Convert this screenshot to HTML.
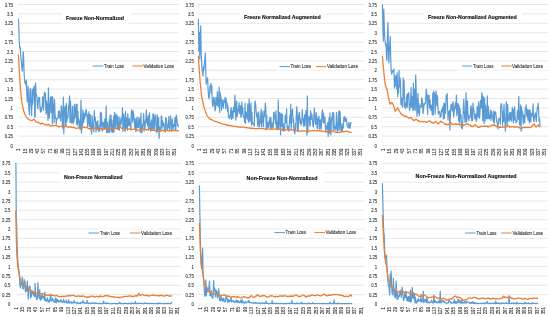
<!DOCTYPE html>
<html lang="en"><head><meta charset="utf-8"><title>Train and Validation Loss</title>
<style>html,body{margin:0;padding:0;background:#fff;overflow:hidden}svg{display:block}</style>
</head><body>
<svg width="550" height="317" viewBox="0 0 550 317">
<rect width="550" height="317" fill="#fff"/>
<g>
<clipPath id="c0"><rect x="17" y="4.2" width="162.6" height="142.3"/></clipPath>
<path d="M18 136.1H178.6M18 126.7H178.6M18 117.3H178.6M18 107.9H178.6M18 98.5H178.6M18 89.1H178.6M18 79.7H178.6M18 70.3H178.6M18 60.9H178.6M18 51.5H178.6M18 42.1H178.6M18 32.7H178.6M18 23.3H178.6M18 13.9H178.6M18 4.5H178.6" stroke="#dfdfdf" stroke-width="0.75" fill="none"/>
<path d="M18 145.6H178.6" stroke="#e9e9e9" stroke-width="0.6" fill="none"/>
<rect x="62" y="11.2" width="68.5" height="7.8" fill="#fff" fill-opacity="1"/>
<rect x="62" y="19" width="67" height="5.6" fill="#fff" fill-opacity="0.7"/>
<rect x="90" y="69" width="87.5" height="2.5" fill="#fff" fill-opacity="0.45"/>
<g font-family='"Liberation Sans", Arial, sans-serif' font-size="4.9" fill="#3a3a3a" stroke="#3a3a3a" stroke-width="0.12">
<text x="10.6" y="147.54" textLength="2.4" lengthAdjust="spacingAndGlyphs">0</text>
<text x="4.7" y="138.14" textLength="8.3" lengthAdjust="spacingAndGlyphs">0.25</text>
<text x="7.1" y="128.74" textLength="5.9" lengthAdjust="spacingAndGlyphs">0.5</text>
<text x="4.7" y="119.34" textLength="8.3" lengthAdjust="spacingAndGlyphs">0.75</text>
<text x="10.6" y="109.94" textLength="2.4" lengthAdjust="spacingAndGlyphs">1</text>
<text x="4.7" y="100.54" textLength="8.3" lengthAdjust="spacingAndGlyphs">1.25</text>
<text x="7.1" y="91.14" textLength="5.9" lengthAdjust="spacingAndGlyphs">1.5</text>
<text x="4.7" y="81.74" textLength="8.3" lengthAdjust="spacingAndGlyphs">1.75</text>
<text x="10.6" y="72.34" textLength="2.4" lengthAdjust="spacingAndGlyphs">2</text>
<text x="4.7" y="62.94" textLength="8.3" lengthAdjust="spacingAndGlyphs">2.25</text>
<text x="7.1" y="53.54" textLength="5.9" lengthAdjust="spacingAndGlyphs">2.5</text>
<text x="4.7" y="44.14" textLength="8.3" lengthAdjust="spacingAndGlyphs">2.75</text>
<text x="10.6" y="34.74" textLength="2.4" lengthAdjust="spacingAndGlyphs">3</text>
<text x="4.7" y="25.34" textLength="8.3" lengthAdjust="spacingAndGlyphs">3.25</text>
<text x="7.1" y="15.94" textLength="5.9" lengthAdjust="spacingAndGlyphs">3.5</text>
<text x="4.7" y="6.54" textLength="8.3" lengthAdjust="spacingAndGlyphs">3.75</text>
</g>
<g font-family='"Liberation Sans", Arial, sans-serif' font-size="4.9" fill="#3a3a3a" stroke="#3a3a3a" stroke-width="0.12">
<text transform="translate(20.44 151) rotate(-90)" textLength="2.4" lengthAdjust="spacingAndGlyphs">1</text>
<text transform="translate(26.67 153.4) rotate(-90)" textLength="4.8" lengthAdjust="spacingAndGlyphs">15</text>
<text transform="translate(32.9 153.4) rotate(-90)" textLength="4.8" lengthAdjust="spacingAndGlyphs">29</text>
<text transform="translate(39.13 153.4) rotate(-90)" textLength="4.8" lengthAdjust="spacingAndGlyphs">43</text>
<text transform="translate(45.37 153.4) rotate(-90)" textLength="4.8" lengthAdjust="spacingAndGlyphs">57</text>
<text transform="translate(51.6 153.4) rotate(-90)" textLength="4.8" lengthAdjust="spacingAndGlyphs">71</text>
<text transform="translate(57.83 153.4) rotate(-90)" textLength="4.8" lengthAdjust="spacingAndGlyphs">85</text>
<text transform="translate(64.06 153.4) rotate(-90)" textLength="4.8" lengthAdjust="spacingAndGlyphs">99</text>
<text transform="translate(70.29 155.8) rotate(-90)" textLength="7.2" lengthAdjust="spacingAndGlyphs">113</text>
<text transform="translate(76.52 155.8) rotate(-90)" textLength="7.2" lengthAdjust="spacingAndGlyphs">127</text>
<text transform="translate(82.75 155.8) rotate(-90)" textLength="7.2" lengthAdjust="spacingAndGlyphs">141</text>
<text transform="translate(88.98 155.8) rotate(-90)" textLength="7.2" lengthAdjust="spacingAndGlyphs">155</text>
<text transform="translate(95.22 155.8) rotate(-90)" textLength="7.2" lengthAdjust="spacingAndGlyphs">169</text>
<text transform="translate(101.45 155.8) rotate(-90)" textLength="7.2" lengthAdjust="spacingAndGlyphs">183</text>
<text transform="translate(107.68 155.8) rotate(-90)" textLength="7.2" lengthAdjust="spacingAndGlyphs">197</text>
<text transform="translate(113.91 155.8) rotate(-90)" textLength="7.2" lengthAdjust="spacingAndGlyphs">211</text>
<text transform="translate(120.14 155.8) rotate(-90)" textLength="7.2" lengthAdjust="spacingAndGlyphs">225</text>
<text transform="translate(126.37 155.8) rotate(-90)" textLength="7.2" lengthAdjust="spacingAndGlyphs">239</text>
<text transform="translate(132.6 155.8) rotate(-90)" textLength="7.2" lengthAdjust="spacingAndGlyphs">253</text>
<text transform="translate(138.84 155.8) rotate(-90)" textLength="7.2" lengthAdjust="spacingAndGlyphs">267</text>
<text transform="translate(145.07 155.8) rotate(-90)" textLength="7.2" lengthAdjust="spacingAndGlyphs">281</text>
<text transform="translate(151.3 155.8) rotate(-90)" textLength="7.2" lengthAdjust="spacingAndGlyphs">295</text>
<text transform="translate(157.53 155.8) rotate(-90)" textLength="7.2" lengthAdjust="spacingAndGlyphs">309</text>
<text transform="translate(163.76 155.8) rotate(-90)" textLength="7.2" lengthAdjust="spacingAndGlyphs">323</text>
<text transform="translate(169.99 155.8) rotate(-90)" textLength="7.2" lengthAdjust="spacingAndGlyphs">337</text>
<text transform="translate(176.22 155.8) rotate(-90)" textLength="7.2" lengthAdjust="spacingAndGlyphs">351</text>
</g>
<g clip-path="url(#c0)" fill="none" stroke-linejoin="round" stroke-linecap="round">
<polyline points="18.4,19.16 18.84,27.06 19.28,42.1 19.72,48.49 20.16,46.99 20.6,53.38 21.05,59.02 21.49,63.16 21.93,68.42 22.37,71.05 22.81,62.78 23.25,51.5 23.69,59.02 24.13,74.06 24.57,79.7 25.02,83.08 25.46,81.58 25.9,85.34 26.34,80.08 26.78,92.86 27.22,101.88 27.66,92.86 28.1,86.09 28.54,100.38 28.98,110.16 29.42,114.78 29.87,91.74 30.31,88.4 30.75,100.86 31.19,106.52 31.63,115.55 32.07,89.25 32.51,104.54 32.95,100.13 33.39,88.18 33.84,95.35 34.28,85.71 34.72,116.88 35.16,116.81 35.6,83.08 36.04,96.06 36.48,94.66 36.92,97.56 37.36,105.45 37.8,108.77 38.24,102.18 38.69,97.3 39.13,99.22 39.57,97.9 40.01,109.07 40.45,112.06 40.89,107.66 41.33,111.75 41.77,107.34 42.21,106.52 42.66,96.81 43.1,98.31 43.54,110.28 43.98,98.64 44.42,92.11 44.86,94.38 45.3,93.38 45.74,107.84 46.18,114.19 46.62,100.87 47.06,112.29 47.51,104.38 47.95,120.29 48.39,87.97 48.83,103.1 49.27,118.15 49.71,107.41 50.15,103.62 50.59,97.01 51.03,112.72 51.48,99.87 51.92,96.68 52.36,124.07 52.8,97 53.24,111.31 53.68,104.35 54.12,122.68 54.56,99.65 55,113.82 55.44,118.14 55.88,118.26 56.33,123.94 56.77,118.53 57.21,119.07 57.65,118.12 58.09,118.04 58.53,111.18 58.97,117.17 59.41,110.9 59.85,117.89 60.3,117.83 60.74,120.74 61.18,106.42 61.62,106 62.06,113.48 62.5,128.23 62.94,127.13 63.38,97 63.82,133.84 64.26,108.05 64.7,110.76 65.15,105.86 65.59,125.61 66.03,125.94 66.47,103.43 66.91,121.4 67.35,115.53 67.79,118.23 68.23,113.54 68.67,105.45 69.12,105.02 69.56,95.87 70,122.48 70.44,100.88 70.88,107.84 71.32,123.1 71.76,122.55 72.2,119.93 72.64,106.23 73.08,123.78 73.53,120.11 73.97,121.94 74.41,104.2 74.85,118.3 75.29,114.74 75.73,107.54 76.17,104.37 76.61,124.09 77.05,104.07 77.49,125.23 77.94,111.32 78.38,122.39 78.82,119.2 79.26,127.64 79.7,121 80.14,129.48 80.58,117.29 81.02,100 81.46,132.9 81.9,127.48 82.34,127.1 82.79,110.15 83.23,113.29 83.67,123.02 84.11,113.14 84.55,119.02 84.99,114.66 85.43,115.84 85.87,110.14 86.31,109.6 86.75,114.86 87.2,116.71 87.64,127.23 88.08,114.35 88.52,123.71 88.96,111.6 89.4,126.42 89.84,124.73 90.28,114.43 90.72,128.9 91.16,129.78 91.61,133.84 92.05,115.56 92.49,119.46 92.93,128.81 93.37,128.65 93.81,131.65 94.25,110.57 94.69,120.07 95.13,116.76 95.57,121.42 96.02,132.32 96.46,122.47 96.9,128.99 97.34,122.39 97.78,120.94 98.22,129.38 98.66,131.64 99.1,131.2 99.54,125.41 99.98,130.23 100.43,112.2 100.87,125.93 101.31,112.95 101.75,121.41 102.19,131.4 102.63,122.08 103.07,123.83 103.51,122.71 103.95,129.39 104.4,124.99 104.84,118.95 105.28,128.75 105.72,122.4 106.16,106.02 106.6,132.68 107.04,121.78 107.48,123.03 107.92,132.27 108.36,132.71 108.81,131.48 109.25,119.16 109.69,132.3 110.13,115.31 110.57,126.16 111.01,115.13 111.45,131.62 111.89,120.01 112.33,131.72 112.77,132.35 113.22,128.69 113.66,116.12 114.1,132.09 114.54,112.31 114.98,114.53 115.42,126.36 115.86,128.65 116.3,114.42 116.74,124.27 117.18,115.5 117.62,129.24 118.07,116.9 118.51,129.36 118.95,122.47 119.39,130.26 119.83,117.08 120.27,121.34 120.71,125.05 121.15,123.45 121.59,119.29 122.03,117.17 122.48,107.9 122.92,131.16 123.36,126.26 123.8,113.93 124.24,119.09 124.68,130.4 125.12,131.43 125.56,111.36 126,127.78 126.44,118.02 126.89,124.04 127.33,130.34 127.77,113.87 128.21,122.73 128.65,125.58 129.09,120.77 129.53,118.48 129.97,125.75 130.41,123.97 130.85,129.97 131.3,113.02 131.74,109.78 132.18,111.58 132.62,122.16 133.06,111.16 133.5,113.14 133.94,118.47 134.38,120.58 134.82,128.15 135.26,118.89 135.71,131.15 136.15,131.5 136.59,119.94 137.03,117.19 137.47,127.8 137.91,123.61 138.35,127.35 138.79,117.63 139.23,117.93 139.68,123.49 140.12,132.21 140.56,123.66 141,113.21 141.44,132.91 141.88,132.44 142.32,127.66 142.76,124.29 143.2,125.09 143.64,113.49 144.09,131.23 144.53,121.97 144.97,128.3 145.41,119.6 145.85,122.67 146.29,109.78 146.73,122.62 147.17,118.55 147.61,125.41 148.05,115.79 148.5,130.11 148.94,125.49 149.38,112.83 149.82,121.89 150.26,128.46 150.7,131.25 151.14,123.51 151.58,119.87 152.02,129.58 152.46,126.82 152.91,114.18 153.35,128.56 153.79,113.93 154.23,130.08 154.67,119.46 155.11,118 155.55,115.06 155.99,124.99 156.43,132.54 156.87,130.43 157.31,114.97 157.76,131.17 158.2,129.93 158.64,117.5 159.08,138.36 159.52,127.09 159.96,131.31 160.4,127.69 160.84,130.32 161.28,115.77 161.72,116.4 162.17,128.25 162.61,120.35 163.05,125.58 163.49,124.3 163.93,123.19 164.37,129.55 164.81,129.72 165.25,131.98 165.69,117.9 166.14,117.95 166.58,120.78 167.02,130.84 167.46,130.52 167.9,124.6 168.34,127.11 168.78,116.46 169.22,127.39 169.66,130.67 170.1,127.26 170.55,115.94 170.99,123.95 171.43,123.17 171.87,131.21 172.31,118.94 172.75,125.49 173.19,129.02 173.63,124.64 174.07,126.62 174.51,125.97 174.96,117.46 175.4,128.76 175.84,129.91 176.28,115.04 176.72,117.92 177.16,120.57 177.6,125.37 178.04,124.82 178.48,126.7" stroke="#5b9bd5" stroke-width="1.2"/>
<polyline points="18.4,54.51 18.84,62.4 19.28,70.3 19.72,77.82 20.16,85.34 20.6,90.23 21.05,95.12 21.49,98.69 21.93,102.26 22.37,104.61 22.81,106.96 23.25,108.94 23.69,110.86 24.13,112.27 24.57,113.36 25.02,114.69 25.46,115.3 25.9,116.34 26.34,116.95 26.78,117.44 27.22,118.11 27.66,118.65 28.1,118.72 28.54,119.23 28.98,119.47 29.42,119.75 29.87,120.14 30.31,120.1 30.75,120.26 31.19,120.23 31.63,120.52 32.07,120.62 32.51,120.31 32.95,119.86 33.39,119.58 33.84,119.28 34.28,119.52 34.72,120.08 35.16,120.72 35.6,121.34 36.04,121.71 36.48,121.93 36.92,122.1 37.36,122.38 37.8,122.26 38.24,122.61 38.69,122.57 39.13,123.02 39.57,123.1 40.01,123.42 40.45,123.96 40.89,124.03 41.33,123.54 41.77,123.47 42.21,122.88 42.66,123.42 43.1,123.91 43.54,124.01 43.98,124.12 44.42,124.52 44.86,124.81 45.3,124.74 45.74,124.49 46.18,124.62 46.62,124.99 47.06,125.02 47.51,125.17 47.95,124.99 48.39,124.47 48.83,124.55 49.27,124.86 49.71,125.34 50.15,125.88 50.59,125.68 51.03,126.01 51.48,125.83 51.92,125.93 52.36,125.66 52.8,125.63 53.24,125.67 53.68,125.43 54.12,125.58 54.56,125.65 55,125.24 55.44,125.4 55.88,125.42 56.33,125.33 56.77,125.54 57.21,126.08 57.65,125.97 58.09,126.62 58.53,126.73 58.97,126.62 59.41,126.95 59.85,126.71 60.3,126.54 60.74,126.27 61.18,126.03 61.62,126.16 62.06,125.95 62.5,126.56 62.94,127.03 63.38,127.31 63.82,127.19 64.26,126.83 64.7,126.37 65.15,126.64 65.59,126.61 66.03,126.23 66.47,126.41 66.91,126.8 67.35,126.96 67.79,126.96 68.23,127.11 68.67,127.69 69.12,127.09 69.56,126.85 70,126.72 70.44,126.86 70.88,127.06 71.32,127.15 71.76,127.03 72.2,127.65 72.64,127.74 73.08,127.74 73.53,127.29 73.97,127.2 74.41,127.57 74.85,127.86 75.29,127.86 75.73,128.27 76.17,128.31 76.61,128.28 77.05,128.02 77.49,128.01 77.94,128.04 78.38,127.78 78.82,128.13 79.26,128.24 79.7,128.12 80.14,128.04 80.58,128.21 81.02,128.06 81.46,127.87 81.9,127.68 82.34,127.81 82.79,127.64 83.23,127.33 83.67,127.26 84.11,127.37 84.55,127.32 84.99,127.38 85.43,127.6 85.87,127.67 86.31,127.7 86.75,127.44 87.2,127.67 87.64,127.81 88.08,128.48 88.52,128.46 88.96,128.69 89.4,128.73 89.84,129.08 90.28,128.75 90.72,129.15 91.16,128.92 91.61,128.53 92.05,128.15 92.49,127.91 92.93,128.02 93.37,128.07 93.81,128.11 94.25,128.35 94.69,128.19 95.13,128.08 95.57,128.44 96.02,128.99 96.46,129.17 96.9,129.14 97.34,129.27 97.78,129.25 98.22,129.05 98.66,128.65 99.1,128.27 99.54,128.67 99.98,128.58 100.43,128.58 100.87,128.59 101.31,128.61 101.75,128.71 102.19,128.86 102.63,129.23 103.07,129.59 103.51,129.26 103.95,129.45 104.4,128.99 104.84,129.06 105.28,128.52 105.72,128.29 106.16,128.51 106.6,128.4 107.04,128.6 107.48,128.35 107.92,128.01 108.36,128.11 108.81,128.59 109.25,128.83 109.69,129.04 110.13,129.09 110.57,128.95 111.01,128.46 111.45,128.4 111.89,128.33 112.33,127.95 112.77,128.38 113.22,128.41 113.66,128.8 114.1,128.52 114.54,128.18 114.98,127.96 115.42,128.09 115.86,128.43 116.3,128.45 116.74,128.79 117.18,129.1 117.62,128.94 118.07,128.58 118.51,128.37 118.95,128.23 119.39,127.46 119.83,127.11 120.27,126.5 120.71,126.99 121.15,127.69 121.59,128.34 122.03,128.4 122.48,128.46 122.92,128.67 123.36,128.86 123.8,128.75 124.24,128.64 124.68,128.72 125.12,128.73 125.56,128.59 126,128.16 126.44,128.5 126.89,128.16 127.33,128.44 127.77,128.77 128.21,128.77 128.65,129.14 129.09,129.11 129.53,128.98 129.97,129.05 130.41,128.57 130.85,128.72 131.3,129.05 131.74,129.37 132.18,129.39 132.62,129.45 133.06,129.35 133.5,129.32 133.94,129.16 134.38,129 134.82,129.03 135.26,129.26 135.71,129.15 136.15,129.3 136.59,129.7 137.03,129.82 137.47,130.04 137.91,130.27 138.35,130.22 138.79,130.17 139.23,130.03 139.68,130.12 140.12,130.09 140.56,129.76 141,129.66 141.44,129.21 141.88,129.2 142.32,129.59 142.76,129.22 143.2,129.18 143.64,129.3 144.09,129.02 144.53,129.04 144.97,129.02 145.41,129.36 145.85,129.53 146.29,129.65 146.73,129.94 147.17,129.62 147.61,129.58 148.05,129.24 148.5,129.36 148.94,129.04 149.38,128.92 149.82,129.34 150.26,129.65 150.7,130.23 151.14,130.11 151.58,130.27 152.02,130.47 152.46,130.51 152.91,130.24 153.35,130.3 153.79,130.11 154.23,130.2 154.67,130.51 155.11,130.71 155.55,130.63 155.99,130.66 156.43,130.65 156.87,130.87 157.31,131.17 157.76,130.8 158.2,131.13 158.64,130.78 159.08,130.72 159.52,130.3 159.96,129.75 160.4,130.48 160.84,130.89 161.28,131.13 161.72,130.75 162.17,130.42 162.61,130.2 163.05,130.29 163.49,130.7 163.93,130.7 164.37,131.09 164.81,131.04 165.25,130.91 165.69,130.7 166.14,130.19 166.58,129.91 167.02,130.24 167.46,130.37 167.9,130.78 168.34,130.96 168.78,131 169.22,130.86 169.66,130.71 170.1,130.9 170.55,130.49 170.99,130.33 171.43,130.42 171.87,130.3 172.31,130.56 172.75,130.51 173.19,130.62 173.63,130.42 174.07,130.53 174.51,129.95 174.96,130.4 175.4,130.7 175.84,130.76 176.28,130.82 176.72,130.81 177.16,130.67 177.6,130.87 178.04,130.57 178.48,130.55" stroke="#ed7d31" stroke-width="1.25"/>
</g>
<text x="66" y="20.1" font-family='"Liberation Sans", Arial, sans-serif' font-size="6" font-weight="bold" fill="#111" stroke="#111" stroke-width="0.15" textLength="58" lengthAdjust="spacingAndGlyphs">Freeze Non-Normalized</text>
<path d="M92.6 66H103.4" stroke="#5b9bd5" stroke-width="1"/>
<path d="M132.4 66H143.4" stroke="#ed7d31" stroke-width="1"/>
<text x="104" y="67.7" font-family='"Liberation Sans", Arial, sans-serif' font-size="4.9" fill="#3a3a3a" stroke="#3a3a3a" stroke-width="0.12" textLength="20" lengthAdjust="spacingAndGlyphs">Train Loss</text>
<text x="143.6" y="67.7" font-family='"Liberation Sans", Arial, sans-serif' font-size="4.9" fill="#3a3a3a" stroke="#3a3a3a" stroke-width="0.12" textLength="30.4" lengthAdjust="spacingAndGlyphs">Validation Loss</text>
</g>
<g>
<clipPath id="c1"><rect x="196.6" y="4.2" width="169.2" height="142.3"/></clipPath>
<path d="M197.6 136.1H364.8M197.6 126.7H364.8M197.6 117.3H364.8M197.6 107.9H364.8M197.6 98.5H364.8M197.6 89.1H364.8M197.6 79.7H364.8M197.6 70.3H364.8M197.6 60.9H364.8M197.6 51.5H364.8M197.6 42.1H364.8M197.6 32.7H364.8M197.6 23.3H364.8M197.6 13.9H364.8M197.6 4.5H364.8" stroke="#dfdfdf" stroke-width="0.75" fill="none"/>
<path d="M197.6 145.6H364.8" stroke="#e9e9e9" stroke-width="0.6" fill="none"/>
<rect x="240" y="11.5" width="86" height="10.8" fill="#fff" fill-opacity="0.55"/>
<rect x="277" y="69" width="85" height="2.5" fill="#fff" fill-opacity="0.45"/>
<g font-family='"Liberation Sans", Arial, sans-serif' font-size="4.9" fill="#3a3a3a" stroke="#3a3a3a" stroke-width="0.12">
<text x="191.4" y="147.54" textLength="2.4" lengthAdjust="spacingAndGlyphs">0</text>
<text x="185.5" y="138.14" textLength="8.3" lengthAdjust="spacingAndGlyphs">0.25</text>
<text x="187.9" y="128.74" textLength="5.9" lengthAdjust="spacingAndGlyphs">0.5</text>
<text x="185.5" y="119.34" textLength="8.3" lengthAdjust="spacingAndGlyphs">0.75</text>
<text x="191.4" y="109.94" textLength="2.4" lengthAdjust="spacingAndGlyphs">1</text>
<text x="185.5" y="100.54" textLength="8.3" lengthAdjust="spacingAndGlyphs">1.25</text>
<text x="187.9" y="91.14" textLength="5.9" lengthAdjust="spacingAndGlyphs">1.5</text>
<text x="185.5" y="81.74" textLength="8.3" lengthAdjust="spacingAndGlyphs">1.75</text>
<text x="191.4" y="72.34" textLength="2.4" lengthAdjust="spacingAndGlyphs">2</text>
<text x="185.5" y="62.94" textLength="8.3" lengthAdjust="spacingAndGlyphs">2.25</text>
<text x="187.9" y="53.54" textLength="5.9" lengthAdjust="spacingAndGlyphs">2.5</text>
<text x="185.5" y="44.14" textLength="8.3" lengthAdjust="spacingAndGlyphs">2.75</text>
<text x="191.4" y="34.74" textLength="2.4" lengthAdjust="spacingAndGlyphs">3</text>
<text x="185.5" y="25.34" textLength="8.3" lengthAdjust="spacingAndGlyphs">3.25</text>
<text x="187.9" y="15.94" textLength="5.9" lengthAdjust="spacingAndGlyphs">3.5</text>
<text x="185.5" y="6.54" textLength="8.3" lengthAdjust="spacingAndGlyphs">3.75</text>
</g>
<g font-family='"Liberation Sans", Arial, sans-serif' font-size="4.9" fill="#3a3a3a" stroke="#3a3a3a" stroke-width="0.12">
<text transform="translate(200.64 151) rotate(-90)" textLength="2.4" lengthAdjust="spacingAndGlyphs">1</text>
<text transform="translate(207.1 153.4) rotate(-90)" textLength="4.8" lengthAdjust="spacingAndGlyphs">15</text>
<text transform="translate(213.57 153.4) rotate(-90)" textLength="4.8" lengthAdjust="spacingAndGlyphs">29</text>
<text transform="translate(220.03 153.4) rotate(-90)" textLength="4.8" lengthAdjust="spacingAndGlyphs">43</text>
<text transform="translate(226.49 153.4) rotate(-90)" textLength="4.8" lengthAdjust="spacingAndGlyphs">57</text>
<text transform="translate(232.96 153.4) rotate(-90)" textLength="4.8" lengthAdjust="spacingAndGlyphs">71</text>
<text transform="translate(239.42 153.4) rotate(-90)" textLength="4.8" lengthAdjust="spacingAndGlyphs">85</text>
<text transform="translate(245.89 153.4) rotate(-90)" textLength="4.8" lengthAdjust="spacingAndGlyphs">99</text>
<text transform="translate(252.35 155.8) rotate(-90)" textLength="7.2" lengthAdjust="spacingAndGlyphs">113</text>
<text transform="translate(258.81 155.8) rotate(-90)" textLength="7.2" lengthAdjust="spacingAndGlyphs">127</text>
<text transform="translate(265.28 155.8) rotate(-90)" textLength="7.2" lengthAdjust="spacingAndGlyphs">141</text>
<text transform="translate(271.74 155.8) rotate(-90)" textLength="7.2" lengthAdjust="spacingAndGlyphs">155</text>
<text transform="translate(278.21 155.8) rotate(-90)" textLength="7.2" lengthAdjust="spacingAndGlyphs">169</text>
<text transform="translate(284.67 155.8) rotate(-90)" textLength="7.2" lengthAdjust="spacingAndGlyphs">183</text>
<text transform="translate(291.13 155.8) rotate(-90)" textLength="7.2" lengthAdjust="spacingAndGlyphs">197</text>
<text transform="translate(297.6 155.8) rotate(-90)" textLength="7.2" lengthAdjust="spacingAndGlyphs">211</text>
<text transform="translate(304.06 155.8) rotate(-90)" textLength="7.2" lengthAdjust="spacingAndGlyphs">225</text>
<text transform="translate(310.52 155.8) rotate(-90)" textLength="7.2" lengthAdjust="spacingAndGlyphs">239</text>
<text transform="translate(316.99 155.8) rotate(-90)" textLength="7.2" lengthAdjust="spacingAndGlyphs">253</text>
<text transform="translate(323.45 155.8) rotate(-90)" textLength="7.2" lengthAdjust="spacingAndGlyphs">267</text>
<text transform="translate(329.92 155.8) rotate(-90)" textLength="7.2" lengthAdjust="spacingAndGlyphs">281</text>
<text transform="translate(336.38 155.8) rotate(-90)" textLength="7.2" lengthAdjust="spacingAndGlyphs">295</text>
<text transform="translate(342.84 155.8) rotate(-90)" textLength="7.2" lengthAdjust="spacingAndGlyphs">309</text>
<text transform="translate(349.31 155.8) rotate(-90)" textLength="7.2" lengthAdjust="spacingAndGlyphs">323</text>
<text transform="translate(355.77 155.8) rotate(-90)" textLength="7.2" lengthAdjust="spacingAndGlyphs">337</text>
<text transform="translate(362.23 155.8) rotate(-90)" textLength="7.2" lengthAdjust="spacingAndGlyphs">351</text>
</g>
<g clip-path="url(#c1)" fill="none" stroke-linejoin="round" stroke-linecap="round">
<polyline points="198.4,19.16 198.86,51.5 199.32,32.7 199.79,59.02 200.25,36.46 200.71,25.93 201.17,51.5 201.63,62.78 202.09,70.3 202.56,72.18 203.02,75.94 203.48,66.54 203.94,70.3 204.4,62.78 204.86,59.02 205.33,53 205.79,70.3 206.25,84.21 206.71,81.58 207.17,79.7 207.63,77.82 208.1,89.1 208.56,96.62 209.02,98.88 209.48,94.49 209.94,86.26 210.4,86.55 210.87,83.43 211.33,93.12 211.79,85.34 212.25,101.99 212.71,106.3 213.17,105.69 213.64,97.58 214.1,97.9 214.56,102.66 215.02,110.92 215.48,108.87 215.94,97.33 216.41,103.15 216.87,105.35 217.33,91.7 217.79,101.92 218.25,106.96 218.71,104.9 219.18,87.22 219.64,112.41 220.1,92.47 220.56,95.65 221.02,97.6 221.49,110.28 221.95,99.71 222.41,101.29 222.87,105.46 223.33,108.11 223.79,100.16 224.26,102.32 224.72,100.18 225.18,97.26 225.64,108.76 226.1,98.39 226.56,104.25 227.03,102.85 227.49,111.42 227.95,105.59 228.41,116.82 228.87,115.65 229.33,118.77 229.8,118.52 230.26,116.27 230.72,110.5 231.18,107.6 231.64,119.39 232.1,111.47 232.57,111.05 233.03,118.09 233.49,107.08 233.95,109.73 234.41,112.09 234.87,95.12 235.34,105.36 235.8,120.16 236.26,107.26 236.72,101.04 237.18,116.67 237.64,112.78 238.11,108.81 238.57,111.27 239.03,102.6 239.49,113.08 239.95,113.78 240.41,105.48 240.88,117.11 241.34,116.79 241.8,101.88 242.26,113.39 242.72,107.73 243.18,115.96 243.65,117.1 244.11,115.9 244.57,122.19 245.03,103.23 245.49,123.42 245.96,111.52 246.42,113.94 246.88,116.37 247.34,119 247.8,103.91 248.26,119.65 248.73,122.24 249.19,98.88 249.65,112.45 250.11,121.44 250.57,110.08 251.03,103.13 251.5,125.24 251.96,112.44 252.42,123.77 252.88,122.87 253.34,123.68 253.8,124.93 254.27,126.11 254.73,106.37 255.19,101.13 255.65,104.34 256.11,111.06 256.57,116.35 257.04,113.15 257.5,123.22 257.96,126.04 258.42,111.9 258.88,114.6 259.34,126.95 259.81,124.36 260.27,122.97 260.73,114.69 261.19,109.26 261.65,126.86 262.11,111.62 262.58,122.19 263.04,116.1 263.5,126.81 263.96,110.75 264.42,116.8 264.88,111.89 265.35,103.01 265.81,107.87 266.27,129.85 266.73,115 267.19,128.34 267.65,122.61 268.12,126.72 268.58,127.51 269.04,120.95 269.5,122.57 269.96,117.33 270.43,127.97 270.89,117.52 271.35,127.08 271.81,129.08 272.27,123.04 272.73,125.52 273.2,127.56 273.66,112.7 274.12,112.17 274.58,115.55 275.04,119.91 275.5,123.74 275.97,110.83 276.43,128.91 276.89,122.06 277.35,121.57 277.81,129.79 278.27,100 278.74,129.3 279.2,119.24 279.66,112.35 280.12,121.08 280.58,134.97 281.04,113.4 281.51,115.15 281.97,126.4 282.43,114.3 282.89,130.73 283.35,123.59 283.81,131.05 284.28,128.38 284.74,130.35 285.2,115.07 285.66,116.43 286.12,122.55 286.58,108.79 287.05,126.4 287.51,129.34 287.97,126.23 288.43,130.51 288.89,131.1 289.35,123.43 289.82,115.16 290.28,122.96 290.74,104.14 291.2,129.64 291.66,113.95 292.13,111.32 292.59,109.11 293.05,122.5 293.51,119.38 293.97,130.89 294.43,132.09 294.9,133.84 295.36,123.81 295.82,129.15 296.28,115.94 296.74,106.77 297.2,112.65 297.67,129.85 298.13,131.68 298.59,116.17 299.05,114.01 299.51,112.16 299.97,122.94 300.44,118.96 300.9,125.24 301.36,123.61 301.82,123.11 302.28,109.69 302.74,119.99 303.21,118.65 303.67,126.25 304.13,124.7 304.59,114.85 305.05,125.68 305.51,114.76 305.98,110.46 306.44,114.44 306.9,135.35 307.36,95.87 307.82,132.83 308.28,117.52 308.75,117.45 309.21,116.48 309.67,124.48 310.13,126.04 310.59,110.74 311.05,114.26 311.52,119.44 311.98,114.4 312.44,120.25 312.9,126.07 313.36,127.04 313.82,119.24 314.29,107.9 314.75,116.46 315.21,121.64 315.67,124.35 316.13,112.58 316.6,115.13 317.06,127.99 317.52,128.68 317.98,118.47 318.44,117.78 318.9,116.07 319.37,128.92 319.83,127.94 320.29,119.54 320.75,124.42 321.21,129.31 321.67,118.21 322.14,111.62 322.6,109.78 323.06,122.5 323.52,113.25 323.98,123.05 324.44,121.1 324.91,116.94 325.37,125.98 325.83,132.09 326.29,125.88 326.75,127.9 327.21,128.81 327.68,122.51 328.14,136.48 328.6,126.68 329.06,117.56 329.52,133.14 329.98,112.79 330.45,127.27 330.91,134.97 331.37,121.38 331.83,118.15 332.29,116.22 332.75,112.42 333.22,130.46 333.68,112.88 334.14,125.51 334.6,128.22 335.06,130.4 335.52,126.03 335.99,128.74 336.45,112.43 336.91,128.64 337.37,131.9 337.83,127.82 338.3,116.57 338.76,111.71 339.22,130.4 339.68,110.91 340.14,112.25 340.6,127.66 341.07,130.05 341.53,131.89 341.99,123.62 342.45,130.97 342.91,126.2 343.37,127.82 343.84,117.19 344.3,121.17 344.76,116.57 345.22,117.85 345.68,121.32 346.14,118.49 346.61,120.24 347.07,125.36 347.53,125.99 347.99,127.49 348.45,127.83 348.91,122.42 349.38,123.98 349.84,128.41 350.3,126.18 350.76,122.94 351.22,122.94" stroke="#5b9bd5" stroke-width="1.2"/>
<polyline points="198.4,56.01 198.86,63.16 199.32,70.3 199.79,76.88 200.25,83.46 200.71,87.85 201.17,92.23 201.63,96.62 202.09,98.65 202.56,100.68 203.02,102.71 203.48,104.74 203.94,106.93 204.4,108.15 204.86,109.64 205.33,110.67 205.79,112.44 206.25,113.45 206.71,115.13 207.17,115.83 207.63,116.42 208.1,116.93 208.56,117.29 209.02,118.23 209.48,118.77 209.94,118.8 210.4,119.17 210.87,119.55 211.33,119.33 211.79,119.55 212.25,120.13 212.71,120.19 213.17,120.52 213.64,120.74 214.1,120.9 214.56,121.32 215.02,121.3 215.48,121.7 215.94,121.75 216.41,121.57 216.87,121.86 217.33,122.03 217.79,122.14 218.25,122.37 218.71,122.59 219.18,123 219.64,122.88 220.1,122.97 220.56,123.16 221.02,123.48 221.49,123.79 221.95,123.96 222.41,123.99 222.87,124.01 223.33,124.26 223.79,124.22 224.26,124.16 224.72,124.3 225.18,124.37 225.64,124.71 226.1,125.12 226.56,124.89 227.03,125.19 227.49,125.28 227.95,125.54 228.41,125.44 228.87,125.46 229.33,125.28 229.8,125.59 230.26,125.47 230.72,125.73 231.18,125.59 231.64,125.98 232.1,125.98 232.57,126.06 233.03,126.03 233.49,126.4 233.95,126.31 234.41,126.44 234.87,126.42 235.34,126.35 235.8,126.28 236.26,126.64 236.72,126.58 237.18,127.08 237.64,126.79 238.11,127.1 238.57,127.23 239.03,127.03 239.49,126.98 239.95,127.42 240.41,127.33 240.88,127.13 241.34,127.23 241.8,127.18 242.26,127.19 242.72,127.08 243.18,126.98 243.65,126.98 244.11,127.14 244.57,127.54 245.03,127.8 245.49,127.71 245.96,127.54 246.42,127.56 246.88,127.71 247.34,127.97 247.8,127.9 248.26,127.99 248.73,127.97 249.19,128.18 249.65,127.91 250.11,127.98 250.57,128.36 251.03,128.35 251.5,128.14 251.96,128.46 252.42,128.16 252.88,128.35 253.34,128.27 253.8,128.27 254.27,128.56 254.73,128.59 255.19,128.66 255.65,128.53 256.11,128.53 256.57,128.79 257.04,128.46 257.5,128.68 257.96,128.7 258.42,128.55 258.88,128.24 259.34,128.37 259.81,128.48 260.27,128.49 260.73,128.62 261.19,128.86 261.65,128.94 262.11,128.8 262.58,128.59 263.04,128.58 263.5,128.71 263.96,128.86 264.42,128.89 264.88,128.76 265.35,128.9 265.81,129.2 266.27,128.94 266.73,128.91 267.19,128.98 267.65,128.96 268.12,128.99 268.58,129.18 269.04,129.07 269.5,129.25 269.96,129.38 270.43,129.19 270.89,129.19 271.35,128.9 271.81,128.99 272.27,129.04 272.73,129.01 273.2,129.25 273.66,129.07 274.12,129.01 274.58,129.09 275.04,129.09 275.5,128.96 275.97,128.94 276.43,128.74 276.89,128.96 277.35,128.95 277.81,128.82 278.27,128.77 278.74,128.86 279.2,129.03 279.66,129.03 280.12,129.34 280.58,129.55 281.04,129.4 281.51,129.48 281.97,129.83 282.43,129.69 282.89,129.91 283.35,130.03 283.81,130.03 284.28,129.8 284.74,130.26 285.2,130.14 285.66,130.11 286.12,130.07 286.58,129.9 287.05,129.92 287.51,129.55 287.97,129.67 288.43,129.52 288.89,129.7 289.35,129.61 289.82,129.59 290.28,129.53 290.74,129.91 291.2,129.83 291.66,129.66 292.13,129.69 292.59,129.98 293.05,129.98 293.51,130.03 293.97,130.34 294.43,130.36 294.9,130.42 295.36,130.34 295.82,130.59 296.28,130.59 296.74,130.7 297.2,130.49 297.67,130.64 298.13,130.52 298.59,130.73 299.05,130.9 299.51,131.13 299.97,131.23 300.44,131.05 300.9,131.14 301.36,131.2 301.82,130.82 302.28,131.04 302.74,130.73 303.21,130.87 303.67,130.96 304.13,130.77 304.59,130.78 305.05,131.07 305.51,131.19 305.98,130.98 306.44,130.91 306.9,131.04 307.36,130.99 307.82,131.16 308.28,131.07 308.75,131.24 309.21,131.17 309.67,131.04 310.13,130.9 310.59,130.75 311.05,130.43 311.52,130.75 311.98,130.78 312.44,130.79 312.9,130.51 313.36,130.67 313.82,130.85 314.29,130.45 314.75,130.4 315.21,130.49 315.67,130.77 316.13,130.67 316.6,130.93 317.06,130.94 317.52,130.54 317.98,130.48 318.44,130.69 318.9,130.41 319.37,130.8 319.83,130.69 320.29,130.9 320.75,130.93 321.21,131.03 321.67,130.88 322.14,131.17 322.6,131.29 323.06,131.37 323.52,131.39 323.98,131.22 324.44,131.4 324.91,131.69 325.37,131.5 325.83,131.63 326.29,131.77 326.75,131.84 327.21,131.89 327.68,131.93 328.14,132.1 328.6,131.65 329.06,131.32 329.52,130.85 329.98,130.53 330.45,130.63 330.91,130.69 331.37,130.71 331.83,131.14 332.29,131.09 332.75,131.52 333.22,131.6 333.68,131.73 334.14,131.67 334.6,131.86 335.06,132.03 335.52,132.25 335.99,132.37 336.45,132.31 336.91,132.28 337.37,132.54 337.83,132.52 338.3,132.44 338.76,132.39 339.22,132.33 339.68,132.27 340.14,132.09 340.6,132.08 341.07,131.8 341.53,131.81 341.99,131.64 342.45,131.57 342.91,131.64 343.37,131.52 343.84,131.91 344.3,131.79 344.76,131.36 345.22,131.44 345.68,131.44 346.14,131.08 346.61,131.16 347.07,131.04 347.53,131.37 347.99,131.63 348.45,131.88 348.91,131.83 349.38,131.86 349.84,132.03 350.3,132.18 350.76,132.15 351.22,132.46" stroke="#ed7d31" stroke-width="1.25"/>
</g>
<text x="244" y="19.1" font-family='"Liberation Sans", Arial, sans-serif' font-size="6" font-weight="bold" fill="#111" stroke="#111" stroke-width="0.15" textLength="76.6" lengthAdjust="spacingAndGlyphs">Freeze Normalized Augmented</text>
<path d="M279.6 66.6H290" stroke="#5b9bd5" stroke-width="1"/>
<path d="M316 66.6H326.4" stroke="#ed7d31" stroke-width="1"/>
<text x="290.6" y="68.3" font-family='"Liberation Sans", Arial, sans-serif' font-size="4.9" fill="#3a3a3a" stroke="#3a3a3a" stroke-width="0.12" textLength="20.4" lengthAdjust="spacingAndGlyphs">Train Loss</text>
<text x="327" y="68.3" font-family='"Liberation Sans", Arial, sans-serif' font-size="4.9" fill="#3a3a3a" stroke="#3a3a3a" stroke-width="0.12" textLength="31" lengthAdjust="spacingAndGlyphs">Validation Loss</text>
</g>
<g>
<clipPath id="c2"><rect x="380.6" y="4.2" width="169" height="142.3"/></clipPath>
<path d="M381.6 136.1H548.6M381.6 126.7H548.6M381.6 117.3H548.6M381.6 107.9H548.6M381.6 98.5H548.6M381.6 89.1H548.6M381.6 79.7H548.6M381.6 70.3H548.6M381.6 60.9H548.6M381.6 51.5H548.6M381.6 42.1H548.6M381.6 32.7H548.6M381.6 23.3H548.6M381.6 13.9H548.6M381.6 4.5H548.6" stroke="#dfdfdf" stroke-width="0.75" fill="none"/>
<path d="M381.6 145.6H548.6" stroke="#e9e9e9" stroke-width="0.6" fill="none"/>
<rect x="424" y="11.2" width="98" height="11.4" fill="#fff" fill-opacity="1"/>
<rect x="459" y="69" width="88" height="2.5" fill="#fff" fill-opacity="0.45"/>
<g font-family='"Liberation Sans", Arial, sans-serif' font-size="4.9" fill="#3a3a3a" stroke="#3a3a3a" stroke-width="0.12">
<text x="374.4" y="147.54" textLength="2.4" lengthAdjust="spacingAndGlyphs">0</text>
<text x="368.5" y="138.14" textLength="8.3" lengthAdjust="spacingAndGlyphs">0.25</text>
<text x="370.9" y="128.74" textLength="5.9" lengthAdjust="spacingAndGlyphs">0.5</text>
<text x="368.5" y="119.34" textLength="8.3" lengthAdjust="spacingAndGlyphs">0.75</text>
<text x="374.4" y="109.94" textLength="2.4" lengthAdjust="spacingAndGlyphs">1</text>
<text x="368.5" y="100.54" textLength="8.3" lengthAdjust="spacingAndGlyphs">1.25</text>
<text x="370.9" y="91.14" textLength="5.9" lengthAdjust="spacingAndGlyphs">1.5</text>
<text x="368.5" y="81.74" textLength="8.3" lengthAdjust="spacingAndGlyphs">1.75</text>
<text x="374.4" y="72.34" textLength="2.4" lengthAdjust="spacingAndGlyphs">2</text>
<text x="368.5" y="62.94" textLength="8.3" lengthAdjust="spacingAndGlyphs">2.25</text>
<text x="370.9" y="53.54" textLength="5.9" lengthAdjust="spacingAndGlyphs">2.5</text>
<text x="368.5" y="44.14" textLength="8.3" lengthAdjust="spacingAndGlyphs">2.75</text>
<text x="374.4" y="34.74" textLength="2.4" lengthAdjust="spacingAndGlyphs">3</text>
<text x="368.5" y="25.34" textLength="8.3" lengthAdjust="spacingAndGlyphs">3.25</text>
<text x="370.9" y="15.94" textLength="5.9" lengthAdjust="spacingAndGlyphs">3.5</text>
<text x="368.5" y="6.54" textLength="8.3" lengthAdjust="spacingAndGlyphs">3.75</text>
</g>
<g font-family='"Liberation Sans", Arial, sans-serif' font-size="4.9" fill="#3a3a3a" stroke="#3a3a3a" stroke-width="0.12">
<text transform="translate(384.64 151) rotate(-90)" textLength="2.4" lengthAdjust="spacingAndGlyphs">1</text>
<text transform="translate(391.11 153.4) rotate(-90)" textLength="4.8" lengthAdjust="spacingAndGlyphs">15</text>
<text transform="translate(397.58 153.4) rotate(-90)" textLength="4.8" lengthAdjust="spacingAndGlyphs">29</text>
<text transform="translate(404.06 153.4) rotate(-90)" textLength="4.8" lengthAdjust="spacingAndGlyphs">43</text>
<text transform="translate(410.53 153.4) rotate(-90)" textLength="4.8" lengthAdjust="spacingAndGlyphs">57</text>
<text transform="translate(417 153.4) rotate(-90)" textLength="4.8" lengthAdjust="spacingAndGlyphs">71</text>
<text transform="translate(423.47 153.4) rotate(-90)" textLength="4.8" lengthAdjust="spacingAndGlyphs">85</text>
<text transform="translate(429.94 153.4) rotate(-90)" textLength="4.8" lengthAdjust="spacingAndGlyphs">99</text>
<text transform="translate(436.42 155.8) rotate(-90)" textLength="7.2" lengthAdjust="spacingAndGlyphs">113</text>
<text transform="translate(442.89 155.8) rotate(-90)" textLength="7.2" lengthAdjust="spacingAndGlyphs">127</text>
<text transform="translate(449.36 155.8) rotate(-90)" textLength="7.2" lengthAdjust="spacingAndGlyphs">141</text>
<text transform="translate(455.83 155.8) rotate(-90)" textLength="7.2" lengthAdjust="spacingAndGlyphs">155</text>
<text transform="translate(462.31 155.8) rotate(-90)" textLength="7.2" lengthAdjust="spacingAndGlyphs">169</text>
<text transform="translate(468.78 155.8) rotate(-90)" textLength="7.2" lengthAdjust="spacingAndGlyphs">183</text>
<text transform="translate(475.25 155.8) rotate(-90)" textLength="7.2" lengthAdjust="spacingAndGlyphs">197</text>
<text transform="translate(481.72 155.8) rotate(-90)" textLength="7.2" lengthAdjust="spacingAndGlyphs">211</text>
<text transform="translate(488.19 155.8) rotate(-90)" textLength="7.2" lengthAdjust="spacingAndGlyphs">225</text>
<text transform="translate(494.67 155.8) rotate(-90)" textLength="7.2" lengthAdjust="spacingAndGlyphs">239</text>
<text transform="translate(501.14 155.8) rotate(-90)" textLength="7.2" lengthAdjust="spacingAndGlyphs">253</text>
<text transform="translate(507.61 155.8) rotate(-90)" textLength="7.2" lengthAdjust="spacingAndGlyphs">267</text>
<text transform="translate(514.08 155.8) rotate(-90)" textLength="7.2" lengthAdjust="spacingAndGlyphs">281</text>
<text transform="translate(520.56 155.8) rotate(-90)" textLength="7.2" lengthAdjust="spacingAndGlyphs">295</text>
<text transform="translate(527.03 155.8) rotate(-90)" textLength="7.2" lengthAdjust="spacingAndGlyphs">309</text>
<text transform="translate(533.5 155.8) rotate(-90)" textLength="7.2" lengthAdjust="spacingAndGlyphs">323</text>
<text transform="translate(539.97 155.8) rotate(-90)" textLength="7.2" lengthAdjust="spacingAndGlyphs">337</text>
<text transform="translate(546.44 155.8) rotate(-90)" textLength="7.2" lengthAdjust="spacingAndGlyphs">351</text>
</g>
<g clip-path="url(#c2)" fill="none" stroke-linejoin="round" stroke-linecap="round">
<polyline points="382.4,4.5 382.86,25.18 383.32,40.97 383.79,9.01 384.25,25.18 384.71,36.46 385.17,42.1 385.64,45.86 386.1,43.98 386.56,59.02 387.02,60.15 387.49,36.46 387.95,22.55 388.41,47.74 388.87,62.78 389.33,51.5 389.8,43.98 390.26,36.46 390.72,59.02 391.18,70.3 391.65,74.06 392.11,71.44 392.57,72.21 393.03,70.4 393.5,69.8 393.96,69.17 394.42,88.04 394.88,75.75 395.34,85.98 395.81,85.72 396.27,75.65 396.73,88.95 397.19,72.75 397.66,96.76 398.12,86.75 398.58,92.79 399.04,70.3 399.51,87.1 399.97,77.82 400.43,81.03 400.89,103.91 401.35,105.15 401.82,98.03 402.28,103.75 402.74,107.11 403.2,77.82 403.67,99.02 404.13,80.52 404.59,106.93 405.05,103.12 405.51,108.62 405.98,106.54 406.44,98.44 406.9,94.45 407.36,107.14 407.83,94.13 408.29,93.21 408.75,92.62 409.21,106.71 409.68,110.72 410.14,106.33 410.6,100.73 411.06,87.68 411.52,107.48 411.99,96.64 412.45,99.27 412.91,110.73 413.37,83.08 413.84,109.57 414.3,89.07 414.76,102.9 415.22,110.53 415.69,75 416.15,88.34 416.61,106.55 417.07,116.69 417.53,102.98 418,93.31 418.46,112.81 418.92,103.57 419.38,115.36 419.85,107.05 420.31,106.65 420.77,105.01 421.23,107.32 421.7,97.95 422.16,99.99 422.62,105.22 423.08,113.56 423.54,110.49 424.01,103.3 424.47,104.8 424.93,104.03 425.39,103.2 425.86,97.37 426.32,89.1 426.78,94.12 427.24,105.97 427.71,114.53 428.17,95.22 428.63,102.19 429.09,95.43 429.55,107.95 430.02,99.9 430.48,106.67 430.94,110.41 431.4,105.05 431.87,109.62 432.33,114.74 432.79,93.05 433.25,114.93 433.72,90.98 434.18,95.4 434.64,93.24 435.1,113.9 435.56,106.28 436.03,90.98 436.49,95.8 436.95,105.44 437.41,95.67 437.88,106.01 438.34,114.03 438.8,111.54 439.26,111.41 439.73,111.73 440.19,117.52 440.65,115.1 441.11,116.24 441.57,109.38 442.04,109.23 442.5,111.9 442.96,106.3 443.42,119.03 443.89,103.16 444.35,118.3 444.81,103.55 445.27,113.62 445.74,109.78 446.2,95.33 446.66,95.3 447.12,93.61 447.58,108.4 448.05,119.99 448.51,112.2 448.97,114.98 449.43,110.37 449.9,129.9 450.36,116.18 450.82,106.92 451.28,104 451.75,106.25 452.21,110.98 452.67,103.51 453.13,101.67 453.59,116.79 454.06,113.82 454.52,108.11 454.98,105.99 455.44,102.74 455.91,109.25 456.37,95.12 456.83,115.62 457.29,103.25 457.75,113.23 458.22,103.76 458.68,121.03 459.14,105.65 459.6,123 460.07,108.73 460.53,118.39 460.99,114.9 461.45,127.83 461.92,124.15 462.38,128.58 462.84,119.99 463.3,110.38 463.76,99.32 464.23,109.93 464.69,118 465.15,122.32 465.61,111.26 466.08,92.86 466.54,122 467,118.88 467.46,100.9 467.93,114.18 468.39,115.26 468.85,120.78 469.31,116.42 469.77,117.78 470.24,116.08 470.7,108.15 471.16,105.7 471.62,120.53 472.09,108.66 472.55,120.51 473.01,103.01 473.47,108.46 473.94,110.26 474.4,115.41 474.86,118.88 475.32,118.87 475.78,113.97 476.25,121.34 476.71,119.12 477.17,106.56 477.63,115.84 478.1,117.15 478.56,101.81 479.02,109.67 479.48,118.16 479.95,113.57 480.41,100.23 480.87,104.99 481.33,108.23 481.79,92.86 482.26,94.71 482.72,120.8 483.18,96.37 483.64,102.46 484.11,123.42 484.57,97.77 485.03,121.31 485.49,105.19 485.96,110.55 486.42,118.87 486.88,116.86 487.34,95.87 487.8,118.77 488.27,106.43 488.73,113.19 489.19,118.88 489.65,118.75 490.12,116.33 490.58,109.81 491.04,120.51 491.5,111.43 491.97,113.33 492.43,116.62 492.89,118.56 493.35,121.72 493.81,110.81 494.28,123.66 494.74,112.32 495.2,111.82 495.66,112.05 496.13,116.44 496.59,121.48 497.05,122.42 497.51,124.18 497.97,128.96 498.44,118.8 498.9,120.16 499.36,119.91 499.82,118.67 500.29,124.33 500.75,106.9 501.21,103.39 501.67,104.99 502.14,110.6 502.6,125.3 503.06,111.53 503.52,121.46 503.98,104.16 504.45,117.28 504.91,121.9 505.37,131.21 505.83,119.85 506.3,101.88 506.76,109.38 507.22,125.82 507.68,104.3 508.15,120.17 508.61,116.31 509.07,121.68 509.53,112.93 509.99,112.64 510.46,119.57 510.92,112.48 511.38,121.16 511.84,114.74 512.31,107.58 512.77,110.94 513.23,122.65 513.69,109.55 514.16,120.06 514.62,106.82 515.08,117.59 515.54,120.52 516,122.77 516.47,121.39 516.93,121.74 517.39,110.43 517.85,118.77 518.32,119.09 518.78,96.24 519.24,117.15 519.7,125.03 520.17,117.85 520.63,104.82 521.09,131.21 521.55,106.75 522.01,113.88 522.48,111.68 522.94,119.36 523.4,123.8 523.86,115.01 524.33,114.85 524.79,122.84 525.25,107.68 525.71,109.61 526.18,104.89 526.64,114.85 527.1,116.81 527.56,109.59 528.02,120.14 528.49,109.74 528.95,118.3 529.41,122.84 529.87,109.84 530.34,111.97 530.8,121.99 531.26,113.56 531.72,114 532.19,116.18 532.65,112.51 533.11,103.76 533.57,120.48 534.03,121.37 534.5,116.85 534.96,114.31 535.42,112.88 535.88,117.32 536.35,121.4 536.81,113.1 537.27,107.66 537.73,106.67 538.2,103.01 538.66,112.36 539.12,121.56 539.58,119.18 540.04,125.95" stroke="#5b9bd5" stroke-width="1.2"/>
<polyline points="382.4,56.01 382.86,61.28 383.32,66.54 383.79,71.49 384.25,76.33 384.71,80.27 385.17,84.21 385.64,85.58 386.1,86.95 386.56,88.31 387.02,89.68 387.49,91.75 387.95,94.44 388.41,96.89 388.87,99.11 389.33,101.42 389.8,103.12 390.26,104.17 390.72,103.81 391.18,102.8 391.65,102.36 392.11,102.93 392.57,103.48 393.03,104.16 393.5,105.28 393.96,106.92 394.42,108.85 394.88,109.93 395.34,111.17 395.81,110.25 396.27,109.66 396.73,109.04 397.19,108.36 397.66,107.76 398.12,108.8 398.58,109.9 399.04,110.32 399.51,111.32 399.97,111.97 400.43,112.98 400.89,113.87 401.35,113.94 401.82,114.62 402.28,114.44 402.74,114.83 403.2,115.56 403.67,116.06 404.13,116.34 404.59,116.51 405.05,116.19 405.51,115.92 405.98,115.92 406.44,116.65 406.9,116.71 407.36,117.24 407.83,117.57 408.29,117.93 408.75,118.41 409.21,118.47 409.68,117.88 410.14,117.49 410.6,117.76 411.06,117.37 411.52,117.82 411.99,119.1 412.45,119.53 412.91,119.53 413.37,120 413.84,120.65 414.3,120.73 414.76,120.25 415.22,119.63 415.69,119.33 416.15,119.33 416.61,119.71 417.07,119.75 417.53,120.63 418,120.56 418.46,121.19 418.92,120.75 419.38,121.21 419.85,121.46 420.31,121.78 420.77,121.41 421.23,121.37 421.7,121.45 422.16,121.7 422.62,121.51 423.08,121.89 423.54,121.76 424.01,121.69 424.47,121.42 424.93,121.97 425.39,122.12 425.86,122.48 426.32,122.28 426.78,121.97 427.24,121.76 427.71,121.93 428.17,121.41 428.63,121.26 429.09,121.06 429.55,121.34 430.02,120.8 430.48,121.66 430.94,121.97 431.4,122.44 431.87,122.63 432.33,123.13 432.79,122.78 433.25,122.79 433.72,122.38 434.18,122.95 434.64,122.31 435.1,121.79 435.56,121.36 436.03,121.63 436.49,122.14 436.95,122.47 437.41,123.23 437.88,123.91 438.34,123.82 438.8,123.09 439.26,122.79 439.73,122.73 440.19,121.72 440.65,121.21 441.11,121.7 441.57,121.5 442.04,122 442.5,122.42 442.96,122.71 443.42,122.96 443.89,123.19 444.35,123.78 444.81,123.85 445.27,124.43 445.74,123.99 446.2,124.18 446.66,124.67 447.12,124.14 447.58,124.72 448.05,124.64 448.51,124.72 448.97,123.85 449.43,122.81 449.9,121.62 450.36,122.37 450.82,122.34 451.28,123.52 451.75,123.6 452.21,124.67 452.67,124.7 453.13,124.46 453.59,124.55 454.06,124.3 454.52,123.95 454.98,123.96 455.44,123.71 455.91,123.7 456.37,124.53 456.83,124.17 457.29,124.49 457.75,123.99 458.22,124.37 458.68,124.05 459.14,124.42 459.6,124.85 460.07,125.05 460.53,124.96 460.99,124.58 461.45,125.21 461.92,125.05 462.38,125.22 462.84,125.33 463.3,125.07 463.76,125.6 464.23,125 464.69,124.72 465.15,124.19 465.61,124.18 466.08,123.87 466.54,124.24 467,124.14 467.46,124.1 467.93,123.96 468.39,123.94 468.85,124.78 469.31,125.01 469.77,125.05 470.24,125.18 470.7,125.72 471.16,126.23 471.62,125.91 472.09,126.59 472.55,126.53 473.01,126.33 473.47,126.14 473.94,125.41 474.4,125.67 474.86,125.01 475.32,124.62 475.78,124.86 476.25,125.34 476.71,125.97 477.17,126.32 477.63,126.65 478.1,127.24 478.56,127.52 479.02,126.98 479.48,127.27 479.95,126.93 480.41,126.22 480.87,126.52 481.33,126.58 481.79,126.09 482.26,126.25 482.72,126.47 483.18,126.33 483.64,126.29 484.11,126.35 484.57,125.86 485.03,126.34 485.49,125.85 485.96,125.82 486.42,126.33 486.88,126.08 487.34,126.44 487.8,126.84 488.27,127.12 488.73,126.73 489.19,126.17 489.65,126.21 490.12,126.27 490.58,125.95 491.04,125.68 491.5,125.7 491.97,125.13 492.43,125.24 492.89,124.76 493.35,125.35 493.81,125.49 494.28,125.21 494.74,125.51 495.2,125.16 495.66,125.78 496.13,126.09 496.59,126.19 497.05,126.99 497.51,126.72 497.97,126.92 498.44,127.22 498.9,126.95 499.36,127.56 499.82,126.84 500.29,127.3 500.75,126.68 501.21,127.28 501.67,127.44 502.14,127.19 502.6,126.96 503.06,127.37 503.52,127.12 503.98,126.94 504.45,126.93 504.91,126.8 505.37,127.27 505.83,127.02 506.3,126.86 506.76,126.78 507.22,126.46 507.68,126.19 508.15,125.29 508.61,125.95 509.07,126.03 509.53,126.6 509.99,127.53 510.46,126.9 510.92,126.86 511.38,126.77 511.84,126.58 512.31,126.73 512.77,126.73 513.23,126.81 513.69,126.9 514.16,127.19 514.62,127.33 515.08,126.92 515.54,127.07 516,127.28 516.47,126.8 516.93,126.79 517.39,126.83 517.85,126.85 518.32,127 518.78,127.59 519.24,127.49 519.7,128.07 520.17,128.35 520.63,128.56 521.09,128.25 521.55,128.41 522.01,127.82 522.48,128.08 522.94,127.62 523.4,127.3 523.86,127.34 524.33,127.43 524.79,127.55 525.25,127.37 525.71,127.54 526.18,127.37 526.64,127.52 527.1,127.28 527.56,127.59 528.02,127.53 528.49,127.45 528.95,127.19 529.41,127.58 529.87,127.35 530.34,127.29 530.8,127.16 531.26,127.19 531.72,126.08 532.19,126.05 532.65,125.03 533.11,125.03 533.57,124.63 534.03,123.57 534.5,124.92 534.96,125.59 535.42,126.26 535.88,126.98 536.35,126.82 536.81,126.46 537.27,126.01 537.73,125.63 538.2,124.74 538.66,125.83 539.12,126.3 539.58,126.65 540.04,126.72" stroke="#ed7d31" stroke-width="1.25"/>
</g>
<text x="428" y="19" font-family='"Liberation Sans", Arial, sans-serif' font-size="6" font-weight="bold" fill="#111" stroke="#111" stroke-width="0.15" textLength="88.6" lengthAdjust="spacingAndGlyphs">Freeze Non-Normalized Augmented</text>
<path d="M462 66H472" stroke="#5b9bd5" stroke-width="1"/>
<path d="M501 66H511.6" stroke="#ed7d31" stroke-width="1"/>
<text x="473" y="67.7" font-family='"Liberation Sans", Arial, sans-serif' font-size="4.9" fill="#3a3a3a" stroke="#3a3a3a" stroke-width="0.12" textLength="20.4" lengthAdjust="spacingAndGlyphs">Train Loss</text>
<text x="512" y="67.7" font-family='"Liberation Sans", Arial, sans-serif' font-size="4.9" fill="#3a3a3a" stroke="#3a3a3a" stroke-width="0.12" textLength="31" lengthAdjust="spacingAndGlyphs">Validation Loss</text>
</g>
<g>
<clipPath id="c3"><rect x="14.6" y="163.07" width="167.4" height="141.93"/></clipPath>
<path d="M15.6 294.62H181M15.6 285.25H181M15.6 275.88H181M15.6 266.5H181M15.6 257.12H181M15.6 247.75H181M15.6 238.38H181M15.6 229H181M15.6 219.62H181M15.6 210.25H181M15.6 200.88H181M15.6 191.5H181M15.6 182.12H181M15.6 172.75H181M15.6 163.38H181" stroke="#dfdfdf" stroke-width="0.75" fill="none"/>
<path d="M15.6 304.1H181" stroke="#e9e9e9" stroke-width="0.6" fill="none"/>
<rect x="59" y="170" width="69.5" height="8" fill="#fff" fill-opacity="1"/>
<rect x="59" y="178" width="69.5" height="6" fill="#fff" fill-opacity="0.6"/>
<rect x="96" y="228" width="64" height="3" fill="#fff" fill-opacity="0.5"/>
<g font-family='"Liberation Sans", Arial, sans-serif' font-size="4.9" fill="#3a3a3a" stroke="#3a3a3a" stroke-width="0.12">
<text x="8" y="306.04" textLength="2.4" lengthAdjust="spacingAndGlyphs">0</text>
<text x="2.1" y="296.66" textLength="8.3" lengthAdjust="spacingAndGlyphs">0.25</text>
<text x="4.5" y="287.29" textLength="5.9" lengthAdjust="spacingAndGlyphs">0.5</text>
<text x="2.1" y="277.91" textLength="8.3" lengthAdjust="spacingAndGlyphs">0.75</text>
<text x="8" y="268.54" textLength="2.4" lengthAdjust="spacingAndGlyphs">1</text>
<text x="2.1" y="259.16" textLength="8.3" lengthAdjust="spacingAndGlyphs">1.25</text>
<text x="4.5" y="249.79" textLength="5.9" lengthAdjust="spacingAndGlyphs">1.5</text>
<text x="2.1" y="240.41" textLength="8.3" lengthAdjust="spacingAndGlyphs">1.75</text>
<text x="8" y="231.04" textLength="2.4" lengthAdjust="spacingAndGlyphs">2</text>
<text x="2.1" y="221.66" textLength="8.3" lengthAdjust="spacingAndGlyphs">2.25</text>
<text x="4.5" y="212.29" textLength="5.9" lengthAdjust="spacingAndGlyphs">2.5</text>
<text x="2.1" y="202.91" textLength="8.3" lengthAdjust="spacingAndGlyphs">2.75</text>
<text x="8" y="193.54" textLength="2.4" lengthAdjust="spacingAndGlyphs">3</text>
<text x="2.1" y="184.16" textLength="8.3" lengthAdjust="spacingAndGlyphs">3.25</text>
<text x="4.5" y="174.79" textLength="5.9" lengthAdjust="spacingAndGlyphs">3.5</text>
<text x="2.1" y="165.41" textLength="8.3" lengthAdjust="spacingAndGlyphs">3.75</text>
</g>
<g font-family='"Liberation Sans", Arial, sans-serif' font-size="4.9" fill="#3a3a3a" stroke="#3a3a3a" stroke-width="0.12">
<text transform="translate(18.04 309.5) rotate(-90)" textLength="2.4" lengthAdjust="spacingAndGlyphs">1</text>
<text transform="translate(24.48 311.9) rotate(-90)" textLength="4.8" lengthAdjust="spacingAndGlyphs">15</text>
<text transform="translate(30.92 311.9) rotate(-90)" textLength="4.8" lengthAdjust="spacingAndGlyphs">29</text>
<text transform="translate(37.36 311.9) rotate(-90)" textLength="4.8" lengthAdjust="spacingAndGlyphs">43</text>
<text transform="translate(43.8 311.9) rotate(-90)" textLength="4.8" lengthAdjust="spacingAndGlyphs">57</text>
<text transform="translate(50.24 311.9) rotate(-90)" textLength="4.8" lengthAdjust="spacingAndGlyphs">71</text>
<text transform="translate(56.68 311.9) rotate(-90)" textLength="4.8" lengthAdjust="spacingAndGlyphs">85</text>
<text transform="translate(63.12 311.9) rotate(-90)" textLength="4.8" lengthAdjust="spacingAndGlyphs">99</text>
<text transform="translate(69.56 314.3) rotate(-90)" textLength="7.2" lengthAdjust="spacingAndGlyphs">113</text>
<text transform="translate(76 314.3) rotate(-90)" textLength="7.2" lengthAdjust="spacingAndGlyphs">127</text>
<text transform="translate(82.44 314.3) rotate(-90)" textLength="7.2" lengthAdjust="spacingAndGlyphs">141</text>
<text transform="translate(88.88 314.3) rotate(-90)" textLength="7.2" lengthAdjust="spacingAndGlyphs">155</text>
<text transform="translate(95.32 314.3) rotate(-90)" textLength="7.2" lengthAdjust="spacingAndGlyphs">169</text>
<text transform="translate(101.76 314.3) rotate(-90)" textLength="7.2" lengthAdjust="spacingAndGlyphs">183</text>
<text transform="translate(108.2 314.3) rotate(-90)" textLength="7.2" lengthAdjust="spacingAndGlyphs">197</text>
<text transform="translate(114.64 314.3) rotate(-90)" textLength="7.2" lengthAdjust="spacingAndGlyphs">211</text>
<text transform="translate(121.08 314.3) rotate(-90)" textLength="7.2" lengthAdjust="spacingAndGlyphs">225</text>
<text transform="translate(127.52 314.3) rotate(-90)" textLength="7.2" lengthAdjust="spacingAndGlyphs">239</text>
<text transform="translate(133.96 314.3) rotate(-90)" textLength="7.2" lengthAdjust="spacingAndGlyphs">253</text>
<text transform="translate(140.4 314.3) rotate(-90)" textLength="7.2" lengthAdjust="spacingAndGlyphs">267</text>
<text transform="translate(146.84 314.3) rotate(-90)" textLength="7.2" lengthAdjust="spacingAndGlyphs">281</text>
<text transform="translate(153.28 314.3) rotate(-90)" textLength="7.2" lengthAdjust="spacingAndGlyphs">295</text>
<text transform="translate(159.72 314.3) rotate(-90)" textLength="7.2" lengthAdjust="spacingAndGlyphs">309</text>
<text transform="translate(166.16 314.3) rotate(-90)" textLength="7.2" lengthAdjust="spacingAndGlyphs">323</text>
<text transform="translate(172.6 314.3) rotate(-90)" textLength="7.2" lengthAdjust="spacingAndGlyphs">337</text>
<text transform="translate(179.04 314.3) rotate(-90)" textLength="7.2" lengthAdjust="spacingAndGlyphs">351</text>
</g>
<g clip-path="url(#c3)" fill="none" stroke-linejoin="round" stroke-linecap="round">
<polyline points="15.8,146.5 16.26,217.75 16.72,226 17.18,247.75 17.64,259 18.1,264.62 18.56,268.38 19.02,270.25 19.48,277.75 19.94,285.25 20.4,287.88 20.86,282.09 21.32,285.11 21.78,284.49 22.24,277 22.7,288.48 23.16,283.88 23.62,289 24.08,279.44 24.54,285.43 25,281.12 25.46,291.9 25.92,290.88 26.38,286.43 26.84,290.96 27.3,281.12 27.76,287.05 28.22,299.12 28.68,290.33 29.14,287.27 29.6,286.49 30.06,286.37 30.52,297.94 30.98,292.87 31.44,296.34 31.9,289.85 32.36,293.69 32.82,293.02 33.28,291.91 33.74,295.77 34.2,293.64 34.66,296.56 35.12,283.43 35.58,296.24 36.04,295.01 36.5,299.51 36.96,299.16 37.42,298.05 37.88,282.62 38.34,293.87 38.8,295.68 39.26,298.19 39.72,289.52 40.18,299.12 40.64,300.25 41.1,295.71 41.56,299.31 42.02,296.61 42.48,294.56 42.94,297.7 43.4,296.79 43.86,297.98 44.32,299.59 44.78,292 45.24,300.75 45.7,299.15 46.16,301.51 46.62,300.49 47.08,299.61 47.54,297.74 48,301.77 48.46,301.01 48.92,302.12 49.38,299.74 49.84,301.96 50.3,297.29 50.76,293.99 51.22,299.2 51.68,301.11 52.14,300.46 52.6,298.36 53.06,300.08 53.52,300.87 53.98,301.97 54.44,301.7 54.9,302.29 55.36,297.8 55.82,302.39 56.28,302.91 56.74,298.72 57.2,299.46 57.66,301.58 58.12,300.25 58.58,302.02 59.04,301.86 59.5,300.83 59.96,301 60.42,301.86 60.88,299.38 61.34,300.74 61.8,301.48 62.26,302.51 62.72,301.64 63.18,302.08 63.64,299.12 64.1,301.28 64.56,302.44 65.02,301.94 65.48,301.59 65.94,302.05 66.4,299.99 66.86,303.13 67.32,302.39 67.78,302.96 68.24,302.43 68.7,299.89 69.16,303.15 69.62,302.61 70.08,302.03 70.54,302.43 71,301.88 71.46,303.18 71.92,301.89 72.38,303 72.84,303.1 73.3,302.26 73.76,302.34 74.22,300.4 74.68,303.01 75.14,302.77 75.6,302.7 76.06,302.79 76.52,303.13 76.98,303.48 77.44,301.98 77.9,302.71 78.36,303.25 78.82,303.35 79.28,303.11 79.74,303.03 80.2,303.5 80.66,302.14 81.12,302.73 81.58,303.06 82.04,302.81 82.5,302.89 82.96,300.4 83.42,302.96 83.88,302.45 84.34,302.31 84.8,303.18 85.26,303.24 85.72,303.36 86.18,303.2 86.64,303.35 87.1,300.4 87.56,303.09 88.02,303.03 88.48,303.5 88.94,302.86 89.4,303.34 89.86,303.29 90.32,303.4 90.78,303.66 91.24,303.21 91.7,303.64 92.16,302.93 92.62,303.3 93.08,302.76 93.54,303.13 94,303.12 94.46,302.87 94.92,303.35 95.38,302.84 95.84,303.39 96.3,303.3 96.76,303.52 97.22,303.24 97.68,303.21 98.14,303.5 98.6,303.63 99.06,303.42 99.52,303.32 99.98,303.46 100.44,303.61 100.9,303.58 101.36,303.5 101.82,303.7 102.28,303.57 102.74,303.09 103.2,303.68 103.66,301 104.12,303.04 104.58,303.35 105.04,303.31 105.5,303.54 105.96,303.7 106.42,302.61 106.88,303.49 107.34,303.51 107.8,303.16 108.26,303.39 108.72,303.54 109.18,303.7 109.64,303.57 110.1,303.57 110.56,303.65 111.02,303.67 111.48,303.69 111.94,303.57 112.4,303.64 112.86,303.47 113.32,303.34 113.78,303.49 114.24,303.55 114.7,303.19 115.16,303.42 115.62,303.7 116.08,303.66 116.54,303.51 117,303.68 117.46,303.4 117.92,303.7 118.38,303.7 118.84,303.35 119.3,303.44 119.76,302.12 120.22,303.54 120.68,303.25 121.14,303.7 121.6,303.7 122.06,303.7 122.52,303.69 122.98,303.7 123.44,303.62 123.9,303.7 124.36,303.54 124.82,302.95 125.28,303.7 125.74,303.36 126.2,303.3 126.66,303.7 127.12,303.53 127.58,303.55 128.04,303.6 128.5,303.39 128.96,303.62 129.42,303.49 129.88,303.61 130.34,303.57 130.8,303.67 131.26,302.93 131.72,303.56 132.18,303.7 132.64,303.06 133.1,303.18 133.56,303.58 134.02,303.65 134.48,303.66 134.94,303.28 135.4,301.6 135.86,303.66 136.32,303.38 136.78,303.59 137.24,303.56 137.7,303.06 138.16,303.38 138.62,303.28 139.08,303.47 139.54,303.27 140,303.58 140.46,303.35 140.92,303.33 141.38,303.61 141.84,303.7 142.3,303.45 142.76,303.57 143.22,303.43 143.68,303.64 144.14,303.45 144.6,303.35 145.06,302.9 145.52,303.11 145.98,303.48 146.44,303.22 146.9,303.64 147.36,303.3 147.82,303.53 148.28,303.25 148.74,303.49 149.2,303.59 149.66,303.66 150.12,303.28 150.58,303.54 151.04,303.41 151.5,303.46 151.96,303.7 152.42,303.43 152.88,303.61 153.34,303.48 153.8,303.46 154.26,303.7 154.72,303.6 155.18,303.56 155.64,303.48 156.1,303.36 156.56,303.65 157.02,303.59 157.48,303.43 157.94,303.7 158.4,303.09 158.86,303.69 159.32,303.26 159.78,303.52 160.24,303.08 160.7,303.33 161.16,303.56 161.62,303.7 162.08,303.53 162.54,303.49 163,303.45 163.46,303.7 163.92,303.67 164.38,303.66 164.84,303.5 165.3,303.68 165.76,303.57 166.22,303.36 166.68,303.62 167.14,303.25 167.6,303.5 168.06,303.59 168.52,303.32 168.98,303.46 169.44,303.6 169.9,303.64 170.36,303.56 170.82,303.49 171.28,303.31 171.74,302.12" stroke="#5b9bd5" stroke-width="1.2"/>
<polyline points="15.8,211 16.26,235 16.72,251.88 17.18,259.68 17.64,265.21 18.1,268.55 18.56,270.93 19.02,273.21 19.48,275.39 19.94,277.57 20.4,279.36 20.86,280.57 21.32,282.02 21.78,283.17 22.24,283.36 22.7,284.23 23.16,284.83 23.62,285.1 24.08,285.79 24.54,286.68 25,287.06 25.46,287.4 25.92,288.01 26.38,287.88 26.84,288.32 27.3,288.72 27.76,289.41 28.22,289.87 28.68,289.94 29.14,290.44 29.6,290.23 30.06,290.71 30.52,290.76 30.98,290.79 31.44,291.08 31.9,291.63 32.36,291.66 32.82,291.73 33.28,292.11 33.74,292.26 34.2,291.89 34.66,292.47 35.12,292.89 35.58,292.97 36.04,293.34 36.5,293.06 36.96,293.31 37.42,293.62 37.88,293.26 38.34,293.68 38.8,293.55 39.26,293.69 39.72,293.25 40.18,293.67 40.64,293.46 41.1,293.77 41.56,293.58 42.02,293.55 42.48,293.72 42.94,293.85 43.4,293.92 43.86,294.25 44.32,294.45 44.78,295.05 45.24,295.12 45.7,295.35 46.16,295.02 46.62,295.03 47.08,295.6 47.54,295.53 48,295.17 48.46,295.23 48.92,295.54 49.38,295.07 49.84,294.86 50.3,295.19 50.76,295.26 51.22,295.14 51.68,294.94 52.14,295.37 52.6,295.37 53.06,295.57 53.52,295.43 53.98,295.63 54.44,295.81 54.9,295.72 55.36,295.92 55.82,295.75 56.28,295.34 56.74,295.73 57.2,296.07 57.66,295.83 58.12,296.33 58.58,296.42 59.04,296.57 59.5,296.52 59.96,296.48 60.42,296.54 60.88,296.24 61.34,296.68 61.8,296.77 62.26,296.51 62.72,296.28 63.18,296.61 63.64,296.29 64.1,296.52 64.56,296.41 65.02,296.39 65.48,296.18 65.94,296.14 66.4,296.17 66.86,295.86 67.32,296.02 67.78,295.98 68.24,295.6 68.7,295.82 69.16,295.65 69.62,295.93 70.08,295.57 70.54,295.76 71,295.8 71.46,295.26 71.92,295.42 72.38,295.37 72.84,295.29 73.3,295.54 73.76,295.64 74.22,295.5 74.68,295.99 75.14,296.15 75.6,296.27 76.06,296.3 76.52,296.49 76.98,296.1 77.44,296.26 77.9,296.03 78.36,295.84 78.82,296.14 79.28,296.19 79.74,296.35 80.2,296.12 80.66,296.45 81.12,296.11 81.58,296.36 82.04,296.08 82.5,296.09 82.96,296.29 83.42,295.95 83.88,296.11 84.34,296.37 84.8,296.87 85.26,296.84 85.72,297.12 86.18,297.07 86.64,296.86 87.1,296.97 87.56,297.52 88.02,297.11 88.48,296.92 88.94,297.11 89.4,297.34 89.86,296.68 90.32,296.75 90.78,296.22 91.24,296.09 91.7,296.17 92.16,296.13 92.62,296.67 93.08,296.26 93.54,296.67 94,296.88 94.46,296.85 94.92,296.84 95.38,297.05 95.84,296.64 96.3,296.3 96.76,296.33 97.22,296.45 97.68,296.72 98.14,296.44 98.6,297.01 99.06,296.56 99.52,296.39 99.98,296.57 100.44,295.76 100.9,296.45 101.36,296.23 101.82,296.5 102.28,296.75 102.74,296.52 103.2,296.55 103.66,296.27 104.12,296.08 104.58,295.61 105.04,296.05 105.5,295.87 105.96,295.27 106.42,295.52 106.88,295.74 107.34,295.74 107.8,296.17 108.26,295.94 108.72,296.13 109.18,295.91 109.64,296.46 110.1,296.42 110.56,296.52 111.02,296.57 111.48,296.98 111.94,296.84 112.4,296.65 112.86,296.96 113.32,297.07 113.78,297.21 114.24,296.76 114.7,297.03 115.16,297.13 115.62,297.06 116.08,297.3 116.54,297.25 117,297.25 117.46,297.34 117.92,297.09 118.38,297.56 118.84,297.76 119.3,297.24 119.76,297.38 120.22,297.57 120.68,297.05 121.14,297.06 121.6,297.1 122.06,297.04 122.52,297.26 122.98,297.19 123.44,296.69 123.9,296.56 124.36,296.32 124.82,296.63 125.28,296.5 125.74,296.3 126.2,296.47 126.66,296.35 127.12,296.44 127.58,296.28 128.04,296.61 128.5,296.3 128.96,295.88 129.42,295.97 129.88,295.83 130.34,295.79 130.8,296.33 131.26,296.13 131.72,296.72 132.18,296.29 132.64,296.45 133.1,296.63 133.56,296.36 134.02,296.16 134.48,296.18 134.94,295.99 135.4,296.05 135.86,295.63 136.32,296.03 136.78,295.59 137.24,295.99 137.7,295.51 138.16,294.55 138.62,293.27 139.08,293.71 139.54,294.41 140,295.66 140.46,295.49 140.92,295.34 141.38,294.94 141.84,294.77 142.3,294.72 142.76,294.37 143.22,294.86 143.68,295.29 144.14,295.32 144.6,295.53 145.06,295.68 145.52,295.75 145.98,295.39 146.44,294.85 146.9,295.46 147.36,295.61 147.82,295.43 148.28,296.01 148.74,295.62 149.2,295.98 149.66,295.88 150.12,295.75 150.58,295.88 151.04,295.32 151.5,295.36 151.96,295 152.42,295 152.88,295.41 153.34,294.96 153.8,294.96 154.26,295.43 154.72,295.34 155.18,295.7 155.64,295.62 156.1,295.48 156.56,295.68 157.02,295.57 157.48,295.79 157.94,295.37 158.4,295.59 158.86,295.55 159.32,296.08 159.78,295.52 160.24,295.74 160.7,295.3 161.16,295.32 161.62,295.08 162.08,295.72 162.54,295.66 163,295.82 163.46,296.05 163.92,296.26 164.38,295.91 164.84,295.74 165.3,295.92 165.76,295.4 166.22,295.54 166.68,295.38 167.14,295.33 167.6,295.22 168.06,295.54 168.52,295.83 168.98,296.15 169.44,295.88 169.9,296.11 170.36,296.05 170.82,295.82 171.28,295.87 171.74,295.91" stroke="#ed7d31" stroke-width="1.25"/>
</g>
<text x="64" y="179.3" font-family='"Liberation Sans", Arial, sans-serif' font-size="6" font-weight="bold" fill="#111" stroke="#111" stroke-width="0.15" textLength="58.6" lengthAdjust="spacingAndGlyphs">Non-Freeze Normalized</text>
<path d="M88.6 233H99" stroke="#5b9bd5" stroke-width="1"/>
<path d="M130 233H140.4" stroke="#ed7d31" stroke-width="1"/>
<text x="100" y="234.7" font-family='"Liberation Sans", Arial, sans-serif' font-size="4.9" fill="#3a3a3a" stroke="#3a3a3a" stroke-width="0.12" textLength="20" lengthAdjust="spacingAndGlyphs">Train Loss</text>
<text x="141" y="234.7" font-family='"Liberation Sans", Arial, sans-serif' font-size="4.9" fill="#3a3a3a" stroke="#3a3a3a" stroke-width="0.12" textLength="31" lengthAdjust="spacingAndGlyphs">Validation Loss</text>
</g>
<g>
<clipPath id="c4"><rect x="198" y="163.07" width="167.8" height="141.93"/></clipPath>
<path d="M199 294.62H364.8M199 285.25H364.8M199 275.88H364.8M199 266.5H364.8M199 257.12H364.8M199 247.75H364.8M199 238.38H364.8M199 229H364.8M199 219.62H364.8M199 210.25H364.8M199 200.88H364.8M199 191.5H364.8M199 182.12H364.8M199 172.75H364.8M199 163.38H364.8" stroke="#dfdfdf" stroke-width="0.75" fill="none"/>
<path d="M199 304.1H364.8" stroke="#e9e9e9" stroke-width="0.6" fill="none"/>
<rect x="240" y="170" width="84.5" height="14" fill="#fff" fill-opacity="1"/>
<rect x="280" y="228" width="82" height="3" fill="#fff" fill-opacity="0.5"/>
<g font-family='"Liberation Sans", Arial, sans-serif' font-size="4.9" fill="#3a3a3a" stroke="#3a3a3a" stroke-width="0.12">
<text x="191.4" y="306.04" textLength="2.4" lengthAdjust="spacingAndGlyphs">0</text>
<text x="185.5" y="296.66" textLength="8.3" lengthAdjust="spacingAndGlyphs">0.25</text>
<text x="187.9" y="287.29" textLength="5.9" lengthAdjust="spacingAndGlyphs">0.5</text>
<text x="185.5" y="277.91" textLength="8.3" lengthAdjust="spacingAndGlyphs">0.75</text>
<text x="191.4" y="268.54" textLength="2.4" lengthAdjust="spacingAndGlyphs">1</text>
<text x="185.5" y="259.16" textLength="8.3" lengthAdjust="spacingAndGlyphs">1.25</text>
<text x="187.9" y="249.79" textLength="5.9" lengthAdjust="spacingAndGlyphs">1.5</text>
<text x="185.5" y="240.41" textLength="8.3" lengthAdjust="spacingAndGlyphs">1.75</text>
<text x="191.4" y="231.04" textLength="2.4" lengthAdjust="spacingAndGlyphs">2</text>
<text x="185.5" y="221.66" textLength="8.3" lengthAdjust="spacingAndGlyphs">2.25</text>
<text x="187.9" y="212.29" textLength="5.9" lengthAdjust="spacingAndGlyphs">2.5</text>
<text x="185.5" y="202.91" textLength="8.3" lengthAdjust="spacingAndGlyphs">2.75</text>
<text x="191.4" y="193.54" textLength="2.4" lengthAdjust="spacingAndGlyphs">3</text>
<text x="185.5" y="184.16" textLength="8.3" lengthAdjust="spacingAndGlyphs">3.25</text>
<text x="187.9" y="174.79" textLength="5.9" lengthAdjust="spacingAndGlyphs">3.5</text>
<text x="185.5" y="165.41" textLength="8.3" lengthAdjust="spacingAndGlyphs">3.75</text>
</g>
<g font-family='"Liberation Sans", Arial, sans-serif' font-size="4.9" fill="#3a3a3a" stroke="#3a3a3a" stroke-width="0.12">
<text transform="translate(201.64 309.5) rotate(-90)" textLength="2.4" lengthAdjust="spacingAndGlyphs">1</text>
<text transform="translate(208.08 311.9) rotate(-90)" textLength="4.8" lengthAdjust="spacingAndGlyphs">15</text>
<text transform="translate(214.52 311.9) rotate(-90)" textLength="4.8" lengthAdjust="spacingAndGlyphs">29</text>
<text transform="translate(220.96 311.9) rotate(-90)" textLength="4.8" lengthAdjust="spacingAndGlyphs">43</text>
<text transform="translate(227.4 311.9) rotate(-90)" textLength="4.8" lengthAdjust="spacingAndGlyphs">57</text>
<text transform="translate(233.84 311.9) rotate(-90)" textLength="4.8" lengthAdjust="spacingAndGlyphs">71</text>
<text transform="translate(240.28 311.9) rotate(-90)" textLength="4.8" lengthAdjust="spacingAndGlyphs">85</text>
<text transform="translate(246.72 311.9) rotate(-90)" textLength="4.8" lengthAdjust="spacingAndGlyphs">99</text>
<text transform="translate(253.16 314.3) rotate(-90)" textLength="7.2" lengthAdjust="spacingAndGlyphs">113</text>
<text transform="translate(259.6 314.3) rotate(-90)" textLength="7.2" lengthAdjust="spacingAndGlyphs">127</text>
<text transform="translate(266.04 314.3) rotate(-90)" textLength="7.2" lengthAdjust="spacingAndGlyphs">141</text>
<text transform="translate(272.48 314.3) rotate(-90)" textLength="7.2" lengthAdjust="spacingAndGlyphs">155</text>
<text transform="translate(278.92 314.3) rotate(-90)" textLength="7.2" lengthAdjust="spacingAndGlyphs">169</text>
<text transform="translate(285.36 314.3) rotate(-90)" textLength="7.2" lengthAdjust="spacingAndGlyphs">183</text>
<text transform="translate(291.8 314.3) rotate(-90)" textLength="7.2" lengthAdjust="spacingAndGlyphs">197</text>
<text transform="translate(298.24 314.3) rotate(-90)" textLength="7.2" lengthAdjust="spacingAndGlyphs">211</text>
<text transform="translate(304.68 314.3) rotate(-90)" textLength="7.2" lengthAdjust="spacingAndGlyphs">225</text>
<text transform="translate(311.12 314.3) rotate(-90)" textLength="7.2" lengthAdjust="spacingAndGlyphs">239</text>
<text transform="translate(317.56 314.3) rotate(-90)" textLength="7.2" lengthAdjust="spacingAndGlyphs">253</text>
<text transform="translate(324 314.3) rotate(-90)" textLength="7.2" lengthAdjust="spacingAndGlyphs">267</text>
<text transform="translate(330.44 314.3) rotate(-90)" textLength="7.2" lengthAdjust="spacingAndGlyphs">281</text>
<text transform="translate(336.88 314.3) rotate(-90)" textLength="7.2" lengthAdjust="spacingAndGlyphs">295</text>
<text transform="translate(343.32 314.3) rotate(-90)" textLength="7.2" lengthAdjust="spacingAndGlyphs">309</text>
<text transform="translate(349.76 314.3) rotate(-90)" textLength="7.2" lengthAdjust="spacingAndGlyphs">323</text>
<text transform="translate(356.2 314.3) rotate(-90)" textLength="7.2" lengthAdjust="spacingAndGlyphs">337</text>
<text transform="translate(362.64 314.3) rotate(-90)" textLength="7.2" lengthAdjust="spacingAndGlyphs">351</text>
</g>
<g clip-path="url(#c4)" fill="none" stroke-linejoin="round" stroke-linecap="round">
<polyline points="199.4,185.88 199.86,214 200.32,236.5 200.78,255.25 201.24,264.62 201.7,268.38 202.16,259 202.62,248.12 203.08,274 203.54,277.75 204,285.25 204.46,292 204.92,296.13 205.38,293.92 205.84,280 206.3,295.95 206.76,286.99 207.22,288.57 207.68,292 208.14,292.04 208.6,289.63 209.06,285.61 209.52,281.12 209.98,295.76 210.44,293.99 210.9,295.52 211.36,290.52 211.82,296.99 212.28,295.75 212.74,298.29 213.2,295.26 213.66,280.71 214.12,290.88 214.58,288.09 215.04,289.68 215.5,296.93 215.96,291.42 216.42,290.31 216.88,292 217.34,297.93 217.8,292.81 218.26,296.13 218.72,288.86 219.18,296.68 219.64,300.32 220.1,298.62 220.56,300.79 221.02,295 221.48,298.08 221.94,300.5 222.4,301.19 222.86,298.48 223.32,300.79 223.78,298.13 224.24,301.65 224.7,301.01 225.16,301.42 225.62,301.96 226.08,295.27 226.54,298.49 227,298 227.46,300.13 227.92,302.63 228.38,299.35 228.84,299.66 229.3,301.54 229.76,301.55 230.22,300.89 230.68,300.62 231.14,296.99 231.6,302.02 232.06,301.53 232.52,301.72 232.98,300.35 233.44,301.27 233.9,301.15 234.36,302.68 234.82,301.84 235.28,301.88 235.74,302.01 236.2,299.99 236.66,301.9 237.12,302.73 237.58,300.66 238.04,300.74 238.5,302.19 238.96,301.19 239.42,302.52 239.88,302.72 240.34,302.09 240.8,300.21 241.26,302.08 241.72,302.93 242.18,299.01 242.64,302.5 243.1,302.61 243.56,301.91 244.02,303.11 244.48,303.15 244.94,303.05 245.4,301.43 245.86,302.3 246.32,302.75 246.78,302.81 247.24,302.02 247.7,301.56 248.16,301 248.62,302.43 249.08,300.48 249.54,302.3 250,302.86 250.46,302.56 250.92,302.72 251.38,302.45 251.84,302.68 252.3,303.09 252.76,302.98 253.22,302.8 253.68,303.24 254.14,303.02 254.6,303.34 255.06,302.47 255.52,302.29 255.98,303.36 256.44,302.74 256.9,303.06 257.36,303.1 257.82,303.22 258.28,303.06 258.74,302.76 259.2,303.5 259.66,302.79 260.12,303.28 260.58,303.49 261.04,303.24 261.5,303.02 261.96,303.28 262.42,303.17 262.88,303.37 263.34,303.43 263.8,302.96 264.26,303.53 264.72,303 265.18,303.25 265.64,303.42 266.1,301 266.56,303.45 267.02,303.4 267.48,303.41 267.94,303.45 268.4,303.7 268.86,303.7 269.32,303.37 269.78,303.58 270.24,303.58 270.7,303.52 271.16,303.68 271.62,303.11 272.08,300.62 272.54,303.57 273,303.7 273.46,303.35 273.92,303.39 274.38,303.17 274.84,303.35 275.3,303.67 275.76,303.7 276.22,303.22 276.68,303.65 277.14,303.56 277.6,303.57 278.06,303.45 278.52,303.44 278.98,303.7 279.44,303.65 279.9,303.7 280.36,303.44 280.82,303.58 281.28,303.7 281.74,303.32 282.2,303.55 282.66,303.7 283.12,303.62 283.58,303.64 284.04,303.53 284.5,303.51 284.96,303.64 285.42,303.47 285.88,303.7 286.34,303.61 286.8,303.42 287.26,303.35 287.72,303.39 288.18,303.7 288.64,303.7 289.1,303.61 289.56,302.91 290.02,303.51 290.48,303.67 290.94,303.7 291.4,303.53 291.86,300.25 292.32,303.46 292.78,303.53 293.24,303.7 293.7,303.58 294.16,303.4 294.62,303.65 295.08,303.7 295.54,303.7 296,303.7 296.46,302.97 296.92,303.24 297.38,303.66 297.84,303.26 298.3,303.7 298.76,303.65 299.22,303.68 299.68,303.6 300.14,303.44 300.6,303.05 301.06,303.43 301.52,303.59 301.98,302.12 302.44,303.61 302.9,303.5 303.36,303.69 303.82,303.53 304.28,303.49 304.74,303.38 305.2,303.69 305.66,303.5 306.12,303.53 306.58,303.69 307.04,303.7 307.5,303.66 307.96,303.41 308.42,303.62 308.88,302.98 309.34,303.48 309.8,303.68 310.26,303.6 310.72,303.5 311.18,303.49 311.64,303.62 312.1,303.5 312.56,302.68 313.02,303.4 313.48,303.55 313.94,303.65 314.4,303.7 314.86,303.55 315.32,303.65 315.78,303.59 316.24,303.67 316.7,303.44 317.16,303.37 317.62,303.69 318.08,303.7 318.54,303.53 319,303.3 319.46,303.52 319.92,303.5 320.38,303.7 320.84,303.67 321.3,303.49 321.76,303.53 322.22,303.59 322.68,303.49 323.14,303.43 323.6,303.58 324.06,303.69 324.52,303.7 324.98,303.56 325.44,303.62 325.9,303.62 326.36,303.38 326.82,303.69 327.28,303.64 327.74,303.48 328.2,303.7 328.66,303.7 329.12,303.68 329.58,303.45 330.04,302.31 330.5,303.64 330.96,303.7 331.42,303.37 331.88,303.7 332.34,303.69 332.8,303.63 333.26,303.16 333.72,303.59 334.18,299.99 334.64,303.7 335.1,303.65 335.56,303.7 336.02,303.69 336.48,303.6 336.94,303.37 337.4,303.7 337.86,303.34 338.32,303.7 338.78,303.17 339.24,303.7 339.7,303.66 340.16,303.67 340.62,303.57 341.08,303.62 341.54,303.66 342,303.7 342.46,303.69 342.92,303.6 343.38,303.68 343.84,303.7 344.3,303.7 344.76,303.61 345.22,303.53 345.68,303.7 346.14,303.44 346.6,303.62 347.06,303.6 347.52,303.7 347.98,303.51 348.44,303.38 348.9,303.2 349.36,303.7 349.82,303.63 350.28,303.49 350.74,303.53 351.2,303.7 351.66,303.61" stroke="#5b9bd5" stroke-width="1.2"/>
<polyline points="199.4,223 199.86,237.75 200.32,249.62 200.78,258.62 201.24,264.31 201.7,266.69 202.16,269.06 202.62,271.93 203.08,275.28 203.54,278.63 204,281.99 204.46,283.27 204.92,284.43 205.38,285.97 205.84,287.27 206.3,287.9 206.76,288.16 207.22,288.72 207.68,289.29 208.14,290.11 208.6,290.03 209.06,290.81 209.52,291.53 209.98,291.97 210.44,292.59 210.9,293.24 211.36,293.03 211.82,293.22 212.28,293.17 212.74,293.08 213.2,293.38 213.66,293.65 214.12,293.5 214.58,293.48 215.04,293.85 215.5,293.64 215.96,294.26 216.42,294.5 216.88,294.8 217.34,294.65 217.8,295.11 218.26,295.15 218.72,295.46 219.18,295.37 219.64,295.18 220.1,295.62 220.56,295.57 221.02,295.58 221.48,295.29 221.94,295.17 222.4,295.25 222.86,295.25 223.32,295.1 223.78,295.11 224.24,294.62 224.7,295.1 225.16,295.3 225.62,295.55 226.08,295.53 226.54,296.13 227,296.07 227.46,296.41 227.92,296.34 228.38,296.44 228.84,295.82 229.3,296.22 229.76,296.75 230.22,297.3 230.68,297.42 231.14,297.33 231.6,296.89 232.06,296.68 232.52,296.52 232.98,296.84 233.44,297.03 233.9,296.57 234.36,296.59 234.82,297.11 235.28,296.95 235.74,297.01 236.2,296.82 236.66,297.27 237.12,297.16 237.58,296.58 238.04,296.64 238.5,296.98 238.96,297.07 239.42,297.46 239.88,297.67 240.34,297.8 240.8,297.76 241.26,297.67 241.72,297.34 242.18,297.04 242.64,297.09 243.1,297 243.56,296.72 244.02,296.64 244.48,296.88 244.94,297.23 245.4,297.11 245.86,297.25 246.32,297.32 246.78,297.45 247.24,298.1 247.7,297.86 248.16,298.12 248.62,297.92 249.08,297.68 249.54,297.48 250,296.99 250.46,296.12 250.92,296.09 251.38,295.77 251.84,295.94 252.3,296.6 252.76,297.04 253.22,297.05 253.68,297.17 254.14,297.42 254.6,297.25 255.06,296.89 255.52,296.19 255.98,295.98 256.44,296.06 256.9,295.06 257.36,295.2 257.82,295.34 258.28,294.99 258.74,295.8 259.2,296.17 259.66,296.37 260.12,296.39 260.58,296.36 261.04,296.24 261.5,295.84 261.96,295.99 262.42,295.64 262.88,296 263.34,295.42 263.8,295.68 264.26,295.56 264.72,295.71 265.18,296.08 265.64,296.38 266.1,296.54 266.56,296.56 267.02,296.94 267.48,297.16 267.94,297.08 268.4,296.86 268.86,296.86 269.32,296.37 269.78,296.2 270.24,296.18 270.7,295.64 271.16,295.59 271.62,296.01 272.08,295.84 272.54,295.92 273,296.27 273.46,296.57 273.92,296.79 274.38,296.73 274.84,296.51 275.3,296.18 275.76,296.85 276.22,296.45 276.68,296.69 277.14,296.54 277.6,296.84 278.06,296.41 278.52,296.57 278.98,296.22 279.44,296.08 279.9,296.05 280.36,296.08 280.82,295.84 281.28,296.21 281.74,296.22 282.2,295.77 282.66,296.25 283.12,296.04 283.58,296.04 284.04,295.77 284.5,296.06 284.96,295.93 285.42,295.96 285.88,295.97 286.34,296.14 286.8,296.31 287.26,296.4 287.72,296.67 288.18,296.62 288.64,296.27 289.1,296.19 289.56,296.57 290.02,296.04 290.48,296.48 290.94,296.19 291.4,295.74 291.86,296.33 292.32,296.19 292.78,296.15 293.24,296.29 293.7,296.09 294.16,296.07 294.62,295.53 295.08,295.23 295.54,294.95 296,295.1 296.46,295.22 296.92,295.83 297.38,295.84 297.84,295.92 298.3,296.42 298.76,296.09 299.22,296.59 299.68,296.54 300.14,296.2 300.6,296.41 301.06,296.12 301.52,295.99 301.98,295.66 302.44,295.02 302.9,295.02 303.36,295.1 303.82,295.24 304.28,295.42 304.74,296.05 305.2,296.14 305.66,296.81 306.12,297.39 306.58,296.66 307.04,296.32 307.5,296.48 307.96,295.71 308.42,295.88 308.88,296.18 309.34,296.05 309.8,295.89 310.26,296.01 310.72,295.4 311.18,295.35 311.64,295.1 312.1,294.8 312.56,294.96 313.02,295.35 313.48,295.45 313.94,295.65 314.4,295.68 314.86,295.61 315.32,295.54 315.78,295.41 316.24,295.35 316.7,295.06 317.16,295 317.62,294.87 318.08,294.95 318.54,295.12 319,295.51 319.46,295.68 319.92,295.54 320.38,295.93 320.84,295.79 321.3,295.84 321.76,295.53 322.22,295.19 322.68,294.64 323.14,294.65 323.6,294.13 324.06,294.53 324.52,294.21 324.98,294.56 325.44,295.18 325.9,295.55 326.36,295.9 326.82,295.73 327.28,295.82 327.74,295.55 328.2,294.98 328.66,294.98 329.12,295.52 329.58,295.39 330.04,295.38 330.5,295.11 330.96,295.24 331.42,295.15 331.88,294.91 332.34,294.77 332.8,294.68 333.26,294.6 333.72,294.36 334.18,294.78 334.64,294.3 335.1,294.59 335.56,294.73 336.02,294.72 336.48,294.66 336.94,294.64 337.4,294.66 337.86,294.9 338.32,294.95 338.78,294.85 339.24,294.75 339.7,295.14 340.16,295.43 340.62,294.99 341.08,295.03 341.54,295.17 342,295.41 342.46,295.66 342.92,295.99 343.38,295.68 343.84,296.17 344.3,296.55 344.76,296.42 345.22,296.69 345.68,296.41 346.14,296.21 346.6,296.02 347.06,296.44 347.52,296.69 347.98,296.75 348.44,296.37 348.9,296.44 349.36,296.04 349.82,295.54 350.28,294.81 350.74,294.91 351.2,295.19 351.66,296.08" stroke="#ed7d31" stroke-width="1.25"/>
</g>
<text x="246.6" y="179.9" font-family='"Liberation Sans", Arial, sans-serif' font-size="6" font-weight="bold" fill="#111" stroke="#111" stroke-width="0.15" textLength="70.8" lengthAdjust="spacingAndGlyphs">Non-Freeze Non-Normalized</text>
<path d="M274.4 232.6H285" stroke="#5b9bd5" stroke-width="1"/>
<path d="M314.4 232.6H325" stroke="#ed7d31" stroke-width="1"/>
<text x="285.6" y="234.3" font-family='"Liberation Sans", Arial, sans-serif' font-size="4.9" fill="#3a3a3a" stroke="#3a3a3a" stroke-width="0.12" textLength="20.4" lengthAdjust="spacingAndGlyphs">Train Loss</text>
<text x="325.6" y="234.3" font-family='"Liberation Sans", Arial, sans-serif' font-size="4.9" fill="#3a3a3a" stroke="#3a3a3a" stroke-width="0.12" textLength="30.4" lengthAdjust="spacingAndGlyphs">Validation Loss</text>
</g>
<g>
<clipPath id="c5"><rect x="381" y="163.07" width="167.5" height="141.93"/></clipPath>
<path d="M382 294.62H547.5M382 285.25H547.5M382 275.88H547.5M382 266.5H547.5M382 257.12H547.5M382 247.75H547.5M382 238.38H547.5M382 229H547.5M382 219.62H547.5M382 210.25H547.5M382 200.88H547.5M382 191.5H547.5M382 182.12H547.5M382 172.75H547.5M382 163.38H547.5" stroke="#dfdfdf" stroke-width="0.75" fill="none"/>
<path d="M382 304.1H547.5" stroke="#e9e9e9" stroke-width="0.6" fill="none"/>
<rect x="411" y="169.6" width="109.5" height="11.6" fill="#fff" fill-opacity="1"/>
<rect x="470" y="228" width="76" height="3" fill="#fff" fill-opacity="0.4"/>
<g font-family='"Liberation Sans", Arial, sans-serif' font-size="4.9" fill="#3a3a3a" stroke="#3a3a3a" stroke-width="0.12">
<text x="374.8" y="306.04" textLength="2.4" lengthAdjust="spacingAndGlyphs">0</text>
<text x="368.9" y="296.66" textLength="8.3" lengthAdjust="spacingAndGlyphs">0.25</text>
<text x="371.3" y="287.29" textLength="5.9" lengthAdjust="spacingAndGlyphs">0.5</text>
<text x="368.9" y="277.91" textLength="8.3" lengthAdjust="spacingAndGlyphs">0.75</text>
<text x="374.8" y="268.54" textLength="2.4" lengthAdjust="spacingAndGlyphs">1</text>
<text x="368.9" y="259.16" textLength="8.3" lengthAdjust="spacingAndGlyphs">1.25</text>
<text x="371.3" y="249.79" textLength="5.9" lengthAdjust="spacingAndGlyphs">1.5</text>
<text x="368.9" y="240.41" textLength="8.3" lengthAdjust="spacingAndGlyphs">1.75</text>
<text x="374.8" y="231.04" textLength="2.4" lengthAdjust="spacingAndGlyphs">2</text>
<text x="368.9" y="221.66" textLength="8.3" lengthAdjust="spacingAndGlyphs">2.25</text>
<text x="371.3" y="212.29" textLength="5.9" lengthAdjust="spacingAndGlyphs">2.5</text>
<text x="368.9" y="202.91" textLength="8.3" lengthAdjust="spacingAndGlyphs">2.75</text>
<text x="374.8" y="193.54" textLength="2.4" lengthAdjust="spacingAndGlyphs">3</text>
<text x="368.9" y="184.16" textLength="8.3" lengthAdjust="spacingAndGlyphs">3.25</text>
<text x="371.3" y="174.79" textLength="5.9" lengthAdjust="spacingAndGlyphs">3.5</text>
<text x="368.9" y="165.41" textLength="8.3" lengthAdjust="spacingAndGlyphs">3.75</text>
</g>
<g font-family='"Liberation Sans", Arial, sans-serif' font-size="4.9" fill="#3a3a3a" stroke="#3a3a3a" stroke-width="0.12">
<text transform="translate(384.64 309.5) rotate(-90)" textLength="2.4" lengthAdjust="spacingAndGlyphs">1</text>
<text transform="translate(391.07 311.9) rotate(-90)" textLength="4.8" lengthAdjust="spacingAndGlyphs">15</text>
<text transform="translate(397.49 311.9) rotate(-90)" textLength="4.8" lengthAdjust="spacingAndGlyphs">29</text>
<text transform="translate(403.92 311.9) rotate(-90)" textLength="4.8" lengthAdjust="spacingAndGlyphs">43</text>
<text transform="translate(410.34 311.9) rotate(-90)" textLength="4.8" lengthAdjust="spacingAndGlyphs">57</text>
<text transform="translate(416.77 311.9) rotate(-90)" textLength="4.8" lengthAdjust="spacingAndGlyphs">71</text>
<text transform="translate(423.2 311.9) rotate(-90)" textLength="4.8" lengthAdjust="spacingAndGlyphs">85</text>
<text transform="translate(429.62 311.9) rotate(-90)" textLength="4.8" lengthAdjust="spacingAndGlyphs">99</text>
<text transform="translate(436.05 314.3) rotate(-90)" textLength="7.2" lengthAdjust="spacingAndGlyphs">113</text>
<text transform="translate(442.47 314.3) rotate(-90)" textLength="7.2" lengthAdjust="spacingAndGlyphs">127</text>
<text transform="translate(448.9 314.3) rotate(-90)" textLength="7.2" lengthAdjust="spacingAndGlyphs">141</text>
<text transform="translate(455.33 314.3) rotate(-90)" textLength="7.2" lengthAdjust="spacingAndGlyphs">155</text>
<text transform="translate(461.75 314.3) rotate(-90)" textLength="7.2" lengthAdjust="spacingAndGlyphs">169</text>
<text transform="translate(468.18 314.3) rotate(-90)" textLength="7.2" lengthAdjust="spacingAndGlyphs">183</text>
<text transform="translate(474.6 314.3) rotate(-90)" textLength="7.2" lengthAdjust="spacingAndGlyphs">197</text>
<text transform="translate(481.03 314.3) rotate(-90)" textLength="7.2" lengthAdjust="spacingAndGlyphs">211</text>
<text transform="translate(487.46 314.3) rotate(-90)" textLength="7.2" lengthAdjust="spacingAndGlyphs">225</text>
<text transform="translate(493.88 314.3) rotate(-90)" textLength="7.2" lengthAdjust="spacingAndGlyphs">239</text>
<text transform="translate(500.31 314.3) rotate(-90)" textLength="7.2" lengthAdjust="spacingAndGlyphs">253</text>
<text transform="translate(506.73 314.3) rotate(-90)" textLength="7.2" lengthAdjust="spacingAndGlyphs">267</text>
<text transform="translate(513.16 314.3) rotate(-90)" textLength="7.2" lengthAdjust="spacingAndGlyphs">281</text>
<text transform="translate(519.59 314.3) rotate(-90)" textLength="7.2" lengthAdjust="spacingAndGlyphs">295</text>
<text transform="translate(526.01 314.3) rotate(-90)" textLength="7.2" lengthAdjust="spacingAndGlyphs">309</text>
<text transform="translate(532.44 314.3) rotate(-90)" textLength="7.2" lengthAdjust="spacingAndGlyphs">323</text>
<text transform="translate(538.86 314.3) rotate(-90)" textLength="7.2" lengthAdjust="spacingAndGlyphs">337</text>
<text transform="translate(545.29 314.3) rotate(-90)" textLength="7.2" lengthAdjust="spacingAndGlyphs">351</text>
</g>
<g clip-path="url(#c5)" fill="none" stroke-linejoin="round" stroke-linecap="round">
<polyline points="382.4,183.62 382.86,202.75 383.32,221.5 383.78,232.75 384.24,235 384.69,251.5 385.15,257.12 385.61,259 386.07,257.12 386.53,255.25 386.99,268.38 387.45,274 387.91,281.5 388.37,285.25 388.83,284.79 389.28,291.19 389.74,294.84 390.2,274 390.66,286.62 391.12,271 391.58,283.34 392.04,293.12 392.5,292.73 392.96,295.21 393.42,278.12 393.88,290.93 394.33,290.1 394.79,296.99 395.25,297.8 395.71,295.84 396.17,281.12 396.63,290.79 397.09,299.12 397.55,292.05 398.01,299.12 398.46,296.45 398.92,295.85 399.38,296.39 399.84,292.42 400.3,290.04 400.76,293.51 401.22,297.35 401.68,293.54 402.14,287.12 402.6,291.54 403.05,294.91 403.51,300.49 403.97,299.12 404.43,297.91 404.89,292.59 405.35,297.36 405.81,290.99 406.27,296.14 406.73,300.29 407.19,297.33 407.64,301 408.1,296.39 408.56,301.07 409.02,296.68 409.48,299.66 409.94,302 410.4,290.12 410.86,301.97 411.32,301.22 411.78,293.69 412.23,287.42 412.69,295.94 413.15,298.26 413.61,292.55 414.07,298.86 414.53,293.99 414.99,302.77 415.45,297.71 415.91,302.71 416.37,303.07 416.82,302.88 417.28,300.3 417.74,301.73 418.2,298.36 418.66,300.88 419.12,300.42 419.58,300.02 420.04,301.64 420.5,300.54 420.96,294.23 421.41,302.08 421.87,300.73 422.33,300.14 422.79,301.75 423.25,290.99 423.71,302.77 424.17,301.72 424.63,301.14 425.09,299.19 425.55,299.63 426,301.98 426.46,302.47 426.92,297.48 427.38,299.97 427.84,303.01 428.3,301.87 428.76,302.42 429.22,302.19 429.68,302.97 430.14,302.08 430.59,302.19 431.05,301.95 431.51,300.19 431.97,301.51 432.43,302.8 432.89,303.09 433.35,302.37 433.81,295 434.27,300.72 434.73,302.5 435.19,300.47 435.64,301.59 436.1,302.59 436.56,301.68 437.02,302.24 437.48,302.96 437.94,302.55 438.4,302.07 438.86,300.59 439.32,302.96 439.77,302.05 440.23,290.99 440.69,302.35 441.15,303.09 441.61,300.89 442.07,300.86 442.53,300.39 442.99,301.97 443.45,300.67 443.91,301.95 444.37,301.45 444.82,302.7 445.28,302.31 445.74,302.73 446.2,303.13 446.66,302.81 447.12,303.16 447.58,303.15 448.04,302.78 448.5,302.91 448.95,299.99 449.41,300.4 449.87,301.46 450.33,301.8 450.79,303.04 451.25,302.3 451.71,303.28 452.17,302.92 452.63,302.84 453.09,302.77 453.54,301.72 454,303 454.46,299.02 454.92,302.85 455.38,301.73 455.84,303.33 456.3,301.69 456.76,303.22 457.22,302.4 457.68,302.57 458.13,299.01 458.59,302.07 459.05,299.99 459.51,302.7 459.97,300.28 460.43,302.9 460.89,302.62 461.35,302.92 461.81,299.01 462.27,303.17 462.72,302.91 463.18,302.29 463.64,303.01 464.1,302.35 464.56,303.03 465.02,301.41 465.48,302.84 465.94,301.08 466.4,302.49 466.86,302.93 467.31,302.21 467.77,302.06 468.23,301.74 468.69,301.95 469.15,302.46 469.61,303.47 470.07,302.53 470.53,303.15 470.99,302.95 471.45,302.44 471.9,303.45 472.36,302.51 472.82,301.56 473.28,303.07 473.74,303.43 474.2,302.67 474.66,303.27 475.12,302.87 475.58,302.75 476.04,303.69 476.5,303.22 476.95,303.69 477.41,303.54 477.87,303.1 478.33,303.64 478.79,303.54 479.25,303.48 479.71,303.23 480.17,303.22 480.63,303.18 481.08,303.49 481.54,303.55 482,303.2 482.46,303.58 482.92,303.57 483.38,303.08 483.84,303.57 484.3,303.59 484.76,302.86 485.22,303.37 485.67,303.7 486.13,303.56 486.59,302.29 487.05,301.33 487.51,303.45 487.97,303.09 488.43,303.07 488.89,303.25 489.35,303.7 489.81,302.95 490.26,303.27 490.72,303.44 491.18,303.7 491.64,303.54 492.1,303.4 492.56,303.44 493.02,303.29 493.48,303.48 493.94,302.96 494.4,303.14 494.85,303.65 495.31,303.54 495.77,301 496.23,303.53 496.69,302.74 497.15,303.53 497.61,303.3 498.07,303.16 498.53,303.65 498.99,302.84 499.44,303.44 499.9,303.57 500.36,303.57 500.82,303.7 501.28,303.69 501.74,302.7 502.2,303.43 502.66,303.47 503.12,303.33 503.58,303.19 504.03,303.59 504.49,303.45 504.95,303.3 505.41,302.99 505.87,303.31 506.33,302.61 506.79,303.46 507.25,303.49 507.71,303.7 508.17,303.41 508.62,303.17 509.08,295.6 509.54,303.45 510,303.63 510.46,303.56 510.92,303.52 511.38,303.43 511.84,302.98 512.3,303.23 512.76,303.06 513.21,302.93 513.67,303.53 514.13,302.85 514.59,303.4 515.05,303.7 515.51,303.57 515.97,303.44 516.43,303.7 516.89,302.14 517.35,303.43 517.8,303.1 518.26,303.68 518.72,303.39 519.18,303.34 519.64,303.6 520.1,303.34 520.56,303.42 521.02,303.3 521.48,303.68 521.94,303.25 522.39,303.5 522.85,303.63 523.31,303.7 523.77,303.48 524.23,303.53 524.69,302.13 525.15,303.69 525.61,302.8 526.07,302.94 526.53,303.3 526.99,303.36 527.44,303.27 527.9,303.7 528.36,302.86 528.82,303.52 529.28,303.61 529.74,303.44 530.2,303.7 530.66,303.7 531.12,303.69 531.58,303.7 532.03,303.25 532.49,302.76 532.95,303.44 533.41,303.53 533.87,303.35 534.33,303.57 534.79,303.41 535.25,303.33 535.71,303.51 536.16,303.55 536.62,303.43 537.08,303.44 537.54,303.23" stroke="#5b9bd5" stroke-width="1.2"/>
<polyline points="382.4,215.12 382.86,224.36 383.32,233.59 383.78,242.06 384.24,249.39 384.69,255.9 385.15,259.15 385.61,262.4 386.07,264.75 386.53,265.1 386.99,269.17 387.45,273.24 387.91,277.16 388.37,279.28 388.83,280.32 389.28,281.55 389.74,283.32 390.2,283.92 390.66,284.6 391.12,285.33 391.58,286.36 392.04,286.7 392.5,286.98 392.96,287.62 393.42,288.11 393.88,288.5 394.33,289.28 394.79,289.72 395.25,290.63 395.71,291.16 396.17,291.6 396.63,291.5 397.09,291.97 397.55,292.19 398.01,291.71 398.46,291.47 398.92,291.51 399.38,291.68 399.84,291.86 400.3,291.92 400.76,291.84 401.22,291.47 401.68,291.43 402.14,290.91 402.6,291.07 403.05,291.68 403.51,291.62 403.97,292.27 404.43,292.45 404.89,293.15 405.35,292.89 405.81,292.89 406.27,292.59 406.73,292.45 407.19,292.53 407.64,292.25 408.1,292.15 408.56,292.48 409.02,292.93 409.48,293.26 409.94,293.61 410.4,294.18 410.86,294.64 411.32,294.42 411.78,294.06 412.23,294.06 412.69,293.96 413.15,293.69 413.61,293.87 414.07,293.77 414.53,293.93 414.99,294.09 415.45,294.35 415.91,294.16 416.37,294.17 416.82,294.84 417.28,294.94 417.74,295.23 418.2,295.71 418.66,296.35 419.12,296.32 419.58,296.46 420.04,296.41 420.5,296.42 420.96,296.02 421.41,295.69 421.87,296.21 422.33,295.93 422.79,295.54 423.25,295.5 423.71,295 424.17,294.78 424.63,294.89 425.09,295.19 425.55,295.68 426,296.06 426.46,296.19 426.92,296.45 427.38,297.11 427.84,297.76 428.3,297.85 428.76,297.68 429.22,297.81 429.68,297.75 430.14,297.51 430.59,297.21 431.05,297.56 431.51,297.15 431.97,297.14 432.43,297.15 432.89,297.01 433.35,296.95 433.81,296.56 434.27,296.38 434.73,296.27 435.19,296.73 435.64,296.94 436.1,297.53 436.56,297.71 437.02,298.06 437.48,298.51 437.94,298.6 438.4,297.92 438.86,298.21 439.32,297.96 439.77,297.81 440.23,298.01 440.69,298.11 441.15,298.33 441.61,298.5 442.07,298.92 442.53,298.54 442.99,298.48 443.45,298.41 443.91,298.61 444.37,298.48 444.82,298.65 445.28,299.08 445.74,299.87 446.2,299.99 446.66,300.26 447.12,299.72 447.58,299.69 448.04,299.49 448.5,299.38 448.95,299.03 449.41,298.87 449.87,298.92 450.33,299.14 450.79,299.01 451.25,298.85 451.71,298.91 452.17,298.11 452.63,298.35 453.09,297.7 453.54,297.24 454,296.49 454.46,296.38 454.92,296.4 455.38,295.96 455.84,296.14 456.3,296.64 456.76,297.26 457.22,297.78 457.68,297.41 458.13,297 458.59,297.33 459.05,297.36 459.51,297.34 459.97,297.6 460.43,298.28 460.89,298.42 461.35,298.92 461.81,299.07 462.27,299.3 462.72,299.47 463.18,300.24 463.64,300.59 464.1,300.04 464.56,300.15 465.02,299.98 465.48,299.94 465.94,299.7 466.4,300.02 466.86,299.7 467.31,299.14 467.77,298.7 468.23,298.74 468.69,297.89 469.15,297.97 469.61,297.95 470.07,297.89 470.53,298.13 470.99,298.27 471.45,298.36 471.9,298.47 472.36,298.22 472.82,297.72 473.28,297.47 473.74,297.29 474.2,297.32 474.66,297.29 475.12,297.85 475.58,297.57 476.04,298.01 476.5,298.36 476.95,298.39 477.41,298.62 477.87,298.42 478.33,298.76 478.79,299.1 479.25,298.91 479.71,298.88 480.17,298.27 480.63,298.51 481.08,298.19 481.54,298.26 482,298.32 482.46,298.08 482.92,298.14 483.38,298.44 483.84,298.02 484.3,298.56 484.76,298.54 485.22,298.83 485.67,298.66 486.13,298.95 486.59,298.82 487.05,298.64 487.51,298.23 487.97,297.68 488.43,298.15 488.89,298.1 489.35,298.8 489.81,298.55 490.26,299.26 490.72,298.72 491.18,299.02 491.64,298.67 492.1,298.54 492.56,298.22 493.02,298.5 493.48,298.33 493.94,298.89 494.4,298.46 494.85,298.78 495.31,298.85 495.77,298.57 496.23,298.94 496.69,298.74 497.15,298.74 497.61,298.91 498.07,299 498.53,298.83 498.99,298.92 499.44,298.72 499.9,298.75 500.36,298.85 500.82,298.36 501.28,298.08 501.74,298.13 502.2,298.21 502.66,298.08 503.12,296.71 503.58,296.04 504.03,296.67 504.49,297.71 504.95,297.2 505.41,297.07 505.87,297.38 506.33,297.28 506.79,297.32 507.25,297.17 507.71,297.31 508.17,297.8 508.62,297.78 509.08,296.92 509.54,296.81 510,296.89 510.46,297.6 510.92,297.78 511.38,298.29 511.84,297.98 512.3,298.41 512.76,298.83 513.21,298.81 513.67,298.93 514.13,298.79 514.59,298.53 515.05,298.58 515.51,298.66 515.97,298.84 516.43,298.5 516.89,298.38 517.35,298.2 517.8,297.99 518.26,298.02 518.72,298 519.18,298.22 519.64,298.25 520.1,298.05 520.56,298.34 521.02,298.27 521.48,298.84 521.94,299.03 522.39,298.92 522.85,299.15 523.31,298.94 523.77,298.8 524.23,298.6 524.69,298.37 525.15,298.2 525.61,298.7 526.07,299.01 526.53,298.99 526.99,299.29 527.44,299.42 527.9,299.29 528.36,299.09 528.82,298.91 529.28,298.8 529.74,298.61 530.2,298.55 530.66,298.27 531.12,298.44 531.58,298.61 532.03,298.6 532.49,298.57 532.95,298.39 533.41,297.99 533.87,297.93 534.33,298.47 534.79,298.22 535.25,298.2 535.71,298.15 536.16,298.3 536.62,298.2 537.08,298.36 537.54,298.09" stroke="#ed7d31" stroke-width="1.25"/>
</g>
<text x="415.6" y="177.6" font-family='"Liberation Sans", Arial, sans-serif' font-size="6" font-weight="bold" fill="#111" stroke="#111" stroke-width="0.15" textLength="101" lengthAdjust="spacingAndGlyphs">Non-Freeze Non-Normalized Augmented</text>
<path d="M465 233H475.6" stroke="#5b9bd5" stroke-width="1"/>
<path d="M501 233H511.6" stroke="#ed7d31" stroke-width="1"/>
<text x="476.4" y="234.7" font-family='"Liberation Sans", Arial, sans-serif' font-size="4.9" fill="#3a3a3a" stroke="#3a3a3a" stroke-width="0.12" textLength="20" lengthAdjust="spacingAndGlyphs">Train Loss</text>
<text x="512.4" y="234.7" font-family='"Liberation Sans", Arial, sans-serif' font-size="4.9" fill="#3a3a3a" stroke="#3a3a3a" stroke-width="0.12" textLength="30.6" lengthAdjust="spacingAndGlyphs">Validation Loss</text>
</g>
</svg>
</body></html>
